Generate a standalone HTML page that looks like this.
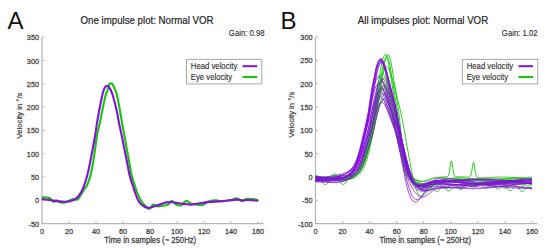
<!DOCTYPE html>
<html><head><meta charset="utf-8"><style>
html,body{margin:0;padding:0;background:#fff;width:550px;height:251px;overflow:hidden}
svg{display:block}
text{font-family:"Liberation Sans",sans-serif}
.tk{font-size:7.3px;fill:#4a4a4a;stroke:#4a4a4a;stroke-width:0.28px}
.lg{font-size:7.75px;fill:#2a2a2a;stroke:#2a2a2a;stroke-width:0.1px}
.ti{font-size:9.7px;fill:#222;stroke:#222;stroke-width:0.18px}
.xl{font-size:7.7px;fill:#444;stroke:#444;stroke-width:0.25px}
.big{font-size:24px;fill:#111}
</style></head><body>
<svg width="550" height="251" viewBox="0 0 550 251">
<path d="M42.0,37.2V223.6H263.5" fill="none" stroke="#b4b4b4" stroke-width="1.2"/>
<text transform="translate(39.00,226.60) scale(1,1.05)" text-anchor="end" class="tk">-50</text>
<path d="M42.0,200.30h2.5" stroke="#b4b4b4" stroke-width="1"/>
<text transform="translate(39.00,203.30) scale(1,1.05)" text-anchor="end" class="tk">0</text>
<path d="M42.0,177.00h2.5" stroke="#b4b4b4" stroke-width="1"/>
<text transform="translate(39.00,180.00) scale(1,1.05)" text-anchor="end" class="tk">50</text>
<path d="M42.0,153.70h2.5" stroke="#b4b4b4" stroke-width="1"/>
<text transform="translate(39.00,156.70) scale(1,1.05)" text-anchor="end" class="tk">100</text>
<path d="M42.0,130.40h2.5" stroke="#b4b4b4" stroke-width="1"/>
<text transform="translate(39.00,133.40) scale(1,1.05)" text-anchor="end" class="tk">150</text>
<path d="M42.0,107.10h2.5" stroke="#b4b4b4" stroke-width="1"/>
<text transform="translate(39.00,110.10) scale(1,1.05)" text-anchor="end" class="tk">200</text>
<path d="M42.0,83.80h2.5" stroke="#b4b4b4" stroke-width="1"/>
<text transform="translate(39.00,86.80) scale(1,1.05)" text-anchor="end" class="tk">250</text>
<path d="M42.0,60.50h2.5" stroke="#b4b4b4" stroke-width="1"/>
<text transform="translate(39.00,63.50) scale(1,1.05)" text-anchor="end" class="tk">300</text>
<path d="M42.0,37.20h2.5" stroke="#b4b4b4" stroke-width="1"/>
<text transform="translate(39.00,40.20) scale(1,1.05)" text-anchor="end" class="tk">350</text>
<text transform="translate(42.00,233.80) scale(1,1.05)" text-anchor="middle" class="tk">0</text>
<path d="M69.00,223.6v-2.5" stroke="#b4b4b4" stroke-width="1"/>
<text transform="translate(69.00,233.80) scale(1,1.05)" text-anchor="middle" class="tk">20</text>
<path d="M96.00,223.6v-2.5" stroke="#b4b4b4" stroke-width="1"/>
<text transform="translate(96.00,233.80) scale(1,1.05)" text-anchor="middle" class="tk">40</text>
<path d="M123.00,223.6v-2.5" stroke="#b4b4b4" stroke-width="1"/>
<text transform="translate(123.00,233.80) scale(1,1.05)" text-anchor="middle" class="tk">60</text>
<path d="M150.00,223.6v-2.5" stroke="#b4b4b4" stroke-width="1"/>
<text transform="translate(150.00,233.80) scale(1,1.05)" text-anchor="middle" class="tk">80</text>
<path d="M177.00,223.6v-2.5" stroke="#b4b4b4" stroke-width="1"/>
<text transform="translate(177.00,233.80) scale(1,1.05)" text-anchor="middle" class="tk">100</text>
<path d="M204.00,223.6v-2.5" stroke="#b4b4b4" stroke-width="1"/>
<text transform="translate(204.00,233.80) scale(1,1.05)" text-anchor="middle" class="tk">120</text>
<path d="M231.00,223.6v-2.5" stroke="#b4b4b4" stroke-width="1"/>
<text transform="translate(231.00,233.80) scale(1,1.05)" text-anchor="middle" class="tk">140</text>
<path d="M258.00,223.6v-2.5" stroke="#b4b4b4" stroke-width="1"/>
<text transform="translate(258.00,233.80) scale(1,1.05)" text-anchor="middle" class="tk">160</text>
<path d="M315.5,36.9V223.7H537.5" fill="none" stroke="#b4b4b4" stroke-width="1.2"/>
<text transform="translate(312.50,226.70) scale(1,1.05)" text-anchor="end" class="tk">-100</text>
<path d="M315.5,200.35h2.5" stroke="#b4b4b4" stroke-width="1"/>
<text transform="translate(312.50,203.35) scale(1,1.05)" text-anchor="end" class="tk">-50</text>
<path d="M315.5,177.00h2.5" stroke="#b4b4b4" stroke-width="1"/>
<text transform="translate(312.50,180.00) scale(1,1.05)" text-anchor="end" class="tk">0</text>
<path d="M315.5,153.65h2.5" stroke="#b4b4b4" stroke-width="1"/>
<text transform="translate(312.50,156.65) scale(1,1.05)" text-anchor="end" class="tk">50</text>
<path d="M315.5,130.30h2.5" stroke="#b4b4b4" stroke-width="1"/>
<text transform="translate(312.50,133.30) scale(1,1.05)" text-anchor="end" class="tk">100</text>
<path d="M315.5,106.95h2.5" stroke="#b4b4b4" stroke-width="1"/>
<text transform="translate(312.50,109.95) scale(1,1.05)" text-anchor="end" class="tk">150</text>
<path d="M315.5,83.60h2.5" stroke="#b4b4b4" stroke-width="1"/>
<text transform="translate(312.50,86.60) scale(1,1.05)" text-anchor="end" class="tk">200</text>
<path d="M315.5,60.25h2.5" stroke="#b4b4b4" stroke-width="1"/>
<text transform="translate(312.50,63.25) scale(1,1.05)" text-anchor="end" class="tk">250</text>
<path d="M315.5,36.90h2.5" stroke="#b4b4b4" stroke-width="1"/>
<text transform="translate(312.50,39.90) scale(1,1.05)" text-anchor="end" class="tk">300</text>
<text transform="translate(315.50,233.80) scale(1,1.05)" text-anchor="middle" class="tk">0</text>
<path d="M342.56,223.7v-2.5" stroke="#b4b4b4" stroke-width="1"/>
<text transform="translate(342.56,233.80) scale(1,1.05)" text-anchor="middle" class="tk">20</text>
<path d="M369.62,223.7v-2.5" stroke="#b4b4b4" stroke-width="1"/>
<text transform="translate(369.62,233.80) scale(1,1.05)" text-anchor="middle" class="tk">40</text>
<path d="M396.68,223.7v-2.5" stroke="#b4b4b4" stroke-width="1"/>
<text transform="translate(396.68,233.80) scale(1,1.05)" text-anchor="middle" class="tk">60</text>
<path d="M423.74,223.7v-2.5" stroke="#b4b4b4" stroke-width="1"/>
<text transform="translate(423.74,233.80) scale(1,1.05)" text-anchor="middle" class="tk">80</text>
<path d="M450.80,223.7v-2.5" stroke="#b4b4b4" stroke-width="1"/>
<text transform="translate(450.80,233.80) scale(1,1.05)" text-anchor="middle" class="tk">100</text>
<path d="M477.86,223.7v-2.5" stroke="#b4b4b4" stroke-width="1"/>
<text transform="translate(477.86,233.80) scale(1,1.05)" text-anchor="middle" class="tk">120</text>
<path d="M504.92,223.7v-2.5" stroke="#b4b4b4" stroke-width="1"/>
<text transform="translate(504.92,233.80) scale(1,1.05)" text-anchor="middle" class="tk">140</text>
<path d="M531.98,223.7v-2.5" stroke="#b4b4b4" stroke-width="1"/>
<text transform="translate(531.98,233.80) scale(1,1.05)" text-anchor="middle" class="tk">160</text>
<path d="M42.80,197.50C43.10,197.45 43.43,197.07 44.60,197.20C45.77,197.33 48.30,197.52 49.80,198.30C51.30,199.08 52.50,201.57 53.60,201.90C54.70,202.23 55.22,200.22 56.40,200.30C57.58,200.38 59.25,202.05 60.70,202.40C62.15,202.75 63.10,202.93 65.10,202.40C67.10,201.87 70.70,199.65 72.70,199.20C74.70,198.75 76.00,199.98 77.10,199.70C78.20,199.42 78.37,198.78 79.30,197.50C80.23,196.22 81.80,193.53 82.70,192.00C83.60,190.47 84.07,189.22 84.70,188.30C85.33,187.38 85.57,188.55 86.50,186.50C87.43,184.45 89.13,180.42 90.30,176.00C91.47,171.58 92.37,166.83 93.50,160.00C94.63,153.17 96.07,141.08 97.10,135.00C98.13,128.92 98.88,127.33 99.70,123.50C100.52,119.67 101.05,116.58 102.00,112.00C102.95,107.42 104.47,99.67 105.40,96.00C106.33,92.33 106.92,92.02 107.60,90.00C108.28,87.98 108.77,84.93 109.50,83.90C110.23,82.87 111.42,83.63 112.00,83.80C112.58,83.97 112.47,83.87 113.00,84.90C113.53,85.93 114.50,88.15 115.20,90.00C115.90,91.85 116.37,92.33 117.20,96.00C118.03,99.67 119.38,107.42 120.20,112.00C121.02,116.58 121.42,119.67 122.10,123.50C122.78,127.33 123.15,128.75 124.30,135.00C125.45,141.25 127.75,154.17 129.00,161.00C130.25,167.83 130.80,171.83 131.80,176.00C132.80,180.17 134.15,183.33 135.00,186.00C135.85,188.67 136.38,190.53 136.90,192.00C137.42,193.47 137.35,193.23 138.10,194.80C138.85,196.37 140.13,199.48 141.40,201.40C142.67,203.32 144.43,205.03 145.70,206.30C146.97,207.57 147.72,209.28 149.00,209.00C150.28,208.72 151.95,205.05 153.40,204.60C154.85,204.15 156.27,206.10 157.70,206.30C159.13,206.50 160.55,205.98 162.00,205.80C163.45,205.62 165.30,205.48 166.40,205.20C167.50,204.92 167.68,204.83 168.60,204.10C169.52,203.37 170.62,200.72 171.90,200.80C173.18,200.88 174.67,203.87 176.30,204.60C177.93,205.33 180.35,205.65 181.70,205.20C183.05,204.75 183.50,202.58 184.40,201.90C185.30,201.22 186.02,200.83 187.10,201.10C188.18,201.37 189.35,202.92 190.90,203.50C192.45,204.08 194.58,204.32 196.40,204.60C198.22,204.88 200.35,205.38 201.80,205.20C203.25,205.02 204.00,204.13 205.10,203.50C206.20,202.87 206.58,201.93 208.40,201.40C210.22,200.87 213.83,200.30 216.00,200.30C218.17,200.30 219.03,201.40 221.40,201.40C223.77,201.40 227.63,200.82 230.20,200.30C232.77,199.78 234.78,198.13 236.80,198.30C238.82,198.47 240.67,201.22 242.30,201.30C243.93,201.38 244.78,199.17 246.60,198.80C248.42,198.43 251.38,198.93 253.20,199.10C255.02,199.27 256.78,199.68 257.50,199.80" fill="none" stroke="#16c608" stroke-width="2.1" stroke-linejoin="round" stroke-linecap="round"/>
<path d="M42.60,199.10C43.98,199.30 48.60,199.97 50.90,200.30C53.20,200.63 54.58,200.88 56.40,201.10C58.22,201.32 59.98,201.52 61.80,201.60C63.62,201.68 65.67,201.73 67.30,201.60C68.93,201.47 70.15,201.30 71.60,200.80C73.05,200.30 74.55,199.78 76.00,198.60C77.45,197.42 79.05,195.60 80.30,193.70C81.55,191.80 82.37,190.15 83.50,187.20C84.63,184.25 85.95,180.37 87.10,176.00C88.25,171.63 89.05,167.83 90.40,161.00C91.75,154.17 94.12,141.25 95.20,135.00C96.28,128.75 96.28,127.33 96.90,123.50C97.52,119.67 98.07,116.42 98.90,112.00C99.73,107.58 101.10,100.67 101.90,97.00C102.70,93.33 103.15,91.67 103.70,90.00C104.25,88.33 104.65,87.70 105.20,87.00C105.75,86.30 106.40,85.80 107.00,85.80C107.60,85.80 108.18,86.30 108.80,87.00C109.42,87.70 110.00,88.50 110.70,90.00C111.40,91.50 111.95,92.33 113.00,96.00C114.05,99.67 115.98,107.42 117.00,112.00C118.02,116.58 118.33,119.67 119.10,123.50C119.87,127.33 120.32,128.75 121.60,135.00C122.88,141.25 125.43,154.17 126.80,161.00C128.17,167.83 128.80,171.92 129.80,176.00C130.80,180.08 131.90,182.67 132.80,185.50C133.70,188.33 134.32,190.53 135.20,193.00C136.08,195.47 137.07,198.37 138.10,200.30C139.13,202.23 140.32,203.52 141.40,204.60C142.48,205.68 143.52,206.28 144.60,206.80C145.68,207.32 146.80,207.60 147.90,207.70C149.00,207.80 149.93,207.70 151.20,207.40C152.47,207.10 153.87,206.45 155.50,205.90C157.13,205.35 159.18,204.68 161.00,204.10C162.82,203.52 164.58,202.72 166.40,202.40C168.22,202.08 170.08,202.10 171.90,202.20C173.72,202.30 175.03,202.68 177.30,203.00C179.57,203.32 183.23,203.83 185.50,204.10C187.77,204.37 189.08,204.65 190.90,204.60C192.72,204.55 194.58,204.07 196.40,203.80C198.22,203.53 199.45,203.32 201.80,203.00C204.15,202.68 207.77,202.17 210.50,201.90C213.23,201.63 215.63,201.60 218.20,201.40C220.77,201.20 222.80,201.00 225.90,200.70C229.00,200.40 234.07,199.68 236.80,199.60C239.53,199.52 240.48,200.13 242.30,200.20C244.12,200.27 245.17,199.92 247.70,200.00C250.23,200.08 255.87,200.58 257.50,200.70" fill="none" stroke="#8410dc" stroke-width="2.1" stroke-linejoin="round" stroke-linecap="round"/>
<path d="M315.50,176.94 L316.18,176.91 L316.85,176.90 L317.53,176.91 L318.21,176.92 L318.88,176.96 L319.56,177.00 L320.24,177.06 L320.91,177.13 L321.59,177.21 L322.26,177.30 L322.94,177.41 L323.62,177.52 L324.29,177.63 L324.97,177.75 L325.65,177.88 L326.32,178.01 L327.00,178.13 L327.68,178.26 L328.35,178.38 L329.03,178.50 L329.71,178.61 L330.38,178.72 L331.06,178.81 L331.74,178.90 L332.41,178.97 L333.09,179.04 L333.77,179.08 L334.44,179.12 L335.12,179.14 L335.80,179.14 L336.47,179.14 L337.15,179.11 L337.82,179.07 L338.50,179.02 L339.18,178.95 L339.85,178.87 L340.53,178.78 L341.21,178.68 L341.88,178.57 L342.56,178.45 L343.24,178.32 L343.91,178.19 L344.59,178.06 L345.27,177.93 L345.94,177.78 L346.62,177.61 L347.30,177.41 L347.97,177.19 L348.65,176.95 L349.32,176.69 L350.00,176.42 L350.68,176.15 L351.35,175.85 L352.03,175.52 L352.71,175.14 L353.38,174.73 L354.06,174.29 L354.74,173.83 L355.41,173.35 L356.09,172.83 L356.77,172.26 L357.44,171.61 L358.12,170.86 L358.80,170.05 L359.47,169.23 L360.15,168.31 L360.83,167.22 L361.50,165.88 L362.18,164.28 L362.86,162.52 L363.53,160.60 L364.21,158.51 L364.88,156.23 L365.56,153.76 L366.24,151.07 L366.91,148.16 L367.59,145.07 L368.27,141.84 L368.94,138.54 L369.62,135.20 L370.30,131.87 L370.97,128.59 L371.65,125.30 L372.33,121.93 L373.00,118.44 L373.68,114.76 L374.36,110.83 L375.03,106.43 L375.71,101.36 L376.38,95.98 L377.06,90.68 L377.74,85.82 L378.41,81.64 L379.09,77.87 L379.77,74.15 L380.44,70.21 L381.12,66.31 L381.80,62.90 L382.47,60.20 L383.15,58.05 L383.83,56.36 L384.50,55.05 L385.18,54.28 L385.86,54.33 L386.53,55.44 L387.21,57.33 L387.89,59.96 L388.56,63.29 L389.24,67.14 L389.91,71.44 L390.59,75.66 L391.27,79.76 L391.94,83.88 L392.62,88.13 L393.30,92.49 L393.97,96.85 L394.65,101.31 L395.33,106.00 L396.00,111.03 L396.68,116.71 L397.36,122.77 L398.03,128.76 L398.71,134.26 L399.39,139.45 L400.06,144.46 L400.74,149.31 L401.42,154.05 L402.09,158.62 L402.77,162.88 L403.44,166.65 L404.12,169.71 L404.80,172.05 L405.47,173.92 L406.15,175.47 L406.83,176.70 L407.50,177.60 L408.18,178.26 L408.86,178.71 L409.53,179.00 L410.21,179.21 L410.89,179.44 L411.56,179.70 L412.24,179.98 L412.92,180.28 L413.59,180.60 L414.27,180.94 L414.95,181.29 L415.62,181.64 L416.30,181.99 L416.98,182.34 L417.65,182.67 L418.33,182.98 L419.00,183.27 L419.68,183.52 L420.36,183.73 L421.03,183.90 L421.71,184.02 L422.39,184.09 L423.06,184.12 L423.74,184.11 L424.42,184.05 L425.09,183.95 L425.77,183.81 L426.45,183.65 L427.12,183.47 L427.80,183.27 L428.48,183.06 L429.15,182.85 L429.83,182.64 L430.50,182.44 L431.18,182.25 L431.86,182.08 L432.53,181.92 L433.21,181.77 L433.89,181.65 L434.56,181.55 L435.24,181.46 L435.92,181.40 L436.59,181.34 L437.27,181.30 L437.95,181.27 L438.62,181.25 L439.30,181.24 L439.98,181.23 L440.65,181.23 L441.33,181.22 L442.01,181.22 L442.68,181.22 L443.36,181.21 L444.03,181.20 L444.71,181.19 L445.39,181.17 L446.06,181.15 L446.74,181.12 L447.42,181.09 L448.09,181.05 L448.77,181.01 L449.45,180.96 L450.12,180.91 L450.80,180.85 L451.48,180.79 L452.15,180.73 L452.83,180.66 L453.51,180.59 L454.18,180.51 L454.86,180.44 L455.54,180.36 L456.21,180.28 L456.89,180.20 L457.56,180.11 L458.24,180.03 L458.92,179.95 L459.59,179.86 L460.27,179.78 L460.95,179.70 L461.62,179.62 L462.30,179.54 L462.98,179.46 L463.65,179.39 L464.33,179.32 L465.01,179.25 L465.68,179.18 L466.36,179.12 L467.04,179.07 L467.71,179.01 L468.39,178.97 L469.07,178.92 L469.74,178.89 L470.42,178.86 L471.10,178.83 L471.77,178.81 L472.45,178.79 L473.12,178.78 L473.80,178.78 L474.48,178.78 L475.15,178.79 L475.83,178.80 L476.51,178.82 L477.18,178.84 L477.86,178.87 L478.54,178.91 L479.21,178.95 L479.89,178.99 L480.57,179.04 L481.24,179.10 L481.92,179.16 L482.60,179.22 L483.27,179.28 L483.95,179.35 L484.62,179.43 L485.30,179.50 L485.98,179.58 L486.65,179.66 L487.33,179.74 L488.01,179.82 L488.68,179.90 L489.36,179.98 L490.04,180.07 L490.71,180.15 L491.39,180.23 L492.07,180.31 L492.74,180.39 L493.42,180.46 L494.10,180.54 L494.77,180.61 L495.45,180.68 L496.13,180.74 L496.80,180.80 L497.48,180.86 L498.15,180.91 L498.83,180.96 L499.51,181.01 L500.18,181.04 L500.86,181.08 L501.54,181.11 L502.21,181.13 L502.89,181.15 L503.57,181.16 L504.24,181.16 L504.92,181.16 L505.60,181.16 L506.27,181.14 L506.95,181.13 L507.63,181.10 L508.30,181.08 L508.98,181.04 L509.66,181.00 L510.33,180.96 L511.01,180.91 L511.69,180.85 L512.36,180.79 L513.04,180.73 L513.71,180.67 L514.39,180.59 L515.07,180.52 L515.74,180.45 L516.42,180.37 L517.10,180.28 L517.77,180.20 L518.45,180.12 L519.13,180.03 L519.80,179.95 L520.48,179.86 L521.16,179.77 L521.83,179.69 L522.51,179.60 L523.19,179.52 L523.86,179.44 L524.54,179.36 L525.22,179.28 L525.89,179.21 L526.57,179.13 L527.24,179.07 L527.92,179.00 L528.60,178.94 L529.27,178.89 L529.95,178.84 L530.63,178.79 L531.30,178.75 L531.98,178.71" fill="none" stroke="#16c608" stroke-width="1" opacity="0.9"/>
<path d="M315.50,179.38 L316.18,179.32 L316.85,179.26 L317.53,179.20 L318.21,179.14 L318.88,179.07 L319.56,179.00 L320.24,178.93 L320.91,178.86 L321.59,178.79 L322.26,178.73 L322.94,178.66 L323.62,178.60 L324.29,178.54 L324.97,178.48 L325.65,178.43 L326.32,178.39 L327.00,178.35 L327.68,178.31 L328.35,178.28 L329.03,178.26 L329.71,178.24 L330.38,178.23 L331.06,178.23 L331.74,178.24 L332.41,178.25 L333.09,178.27 L333.77,178.29 L334.44,178.32 L335.12,178.36 L335.80,178.40 L336.47,178.45 L337.15,178.50 L337.82,178.55 L338.50,178.61 L339.18,178.68 L339.85,178.74 L340.53,178.81 L341.21,178.87 L341.88,178.94 L342.56,179.00 L343.24,179.07 L343.91,179.13 L344.59,179.18 L345.27,179.24 L345.94,179.28 L346.62,179.33 L347.30,179.36 L347.97,179.39 L348.65,179.39 L349.32,179.35 L350.00,179.28 L350.68,179.16 L351.35,179.01 L352.03,178.82 L352.71,178.60 L353.38,178.34 L354.06,178.05 L354.74,177.69 L355.41,177.27 L356.09,176.79 L356.77,176.27 L357.44,175.72 L358.12,175.14 L358.80,174.51 L359.47,173.83 L360.15,173.07 L360.83,172.22 L361.50,171.31 L362.18,170.40 L362.86,169.41 L363.53,168.25 L364.21,166.86 L364.88,165.20 L365.56,163.40 L366.24,161.45 L366.91,159.33 L367.59,157.03 L368.27,154.54 L368.94,151.84 L369.62,148.91 L370.30,145.81 L370.97,142.58 L371.65,139.27 L372.33,135.92 L373.00,132.59 L373.68,129.29 L374.36,125.99 L375.03,122.62 L375.71,119.12 L376.38,115.44 L377.06,111.49 L377.74,107.08 L378.41,102.00 L379.09,96.60 L379.77,91.27 L380.44,86.40 L381.12,82.21 L381.80,78.43 L382.47,74.69 L383.15,70.74 L383.83,66.83 L384.50,63.40 L385.18,60.68 L385.86,58.53 L386.53,56.84 L387.21,55.52 L387.89,54.75 L388.56,54.80 L389.24,55.92 L389.91,57.80 L390.59,60.45 L391.27,63.79 L391.94,67.65 L392.62,71.97 L393.30,76.21 L393.97,80.33 L394.65,84.47 L395.33,88.74 L396.00,93.12 L396.68,97.50 L397.36,101.98 L398.03,106.69 L398.71,111.76 L399.39,117.47 L400.06,123.57 L400.74,129.61 L401.42,135.15 L402.09,140.39 L402.77,145.45 L403.44,150.37 L404.12,155.17 L404.80,159.82 L405.47,164.16 L406.15,168.02 L406.83,171.17 L407.50,173.62 L408.18,175.60 L408.86,177.27 L409.53,178.61 L410.21,179.64 L410.89,180.43 L411.56,181.01 L412.24,181.43 L412.92,181.77 L413.59,182.13 L414.27,182.50 L414.95,182.89 L415.62,183.28 L416.30,183.69 L416.98,184.10 L417.65,184.50 L418.33,184.90 L419.00,185.27 L419.68,185.63 L420.36,185.96 L421.03,186.26 L421.71,186.53 L422.39,186.75 L423.06,186.94 L423.74,187.08 L424.42,187.18 L425.09,187.23 L425.77,187.24 L426.45,187.21 L427.12,187.15 L427.80,187.04 L428.48,186.91 L429.15,186.74 L429.83,186.55 L430.50,186.34 L431.18,186.11 L431.86,185.87 L432.53,185.62 L433.21,185.37 L433.89,185.11 L434.56,184.85 L435.24,184.59 L435.92,184.34 L436.59,184.09 L437.27,183.85 L437.95,183.62 L438.62,183.40 L439.30,183.19 L439.98,182.99 L440.65,182.80 L441.33,182.62 L442.01,182.45 L442.68,182.29 L443.36,182.14 L444.03,181.99 L444.71,181.86 L445.39,181.73 L446.06,181.61 L446.74,181.50 L447.42,181.39 L448.09,181.29 L448.77,181.20 L449.45,181.12 L450.12,181.04 L450.80,180.97 L451.48,180.90 L452.15,180.85 L452.83,180.80 L453.51,180.75 L454.18,180.72 L454.86,180.69 L455.54,180.67 L456.21,180.66 L456.89,180.66 L457.56,180.66 L458.24,180.67 L458.92,180.69 L459.59,180.71 L460.27,180.75 L460.95,180.79 L461.62,180.83 L462.30,180.88 L462.98,180.94 L463.65,181.01 L464.33,181.08 L465.01,181.15 L465.68,181.23 L466.36,181.31 L467.04,181.40 L467.71,181.49 L468.39,181.58 L469.07,181.67 L469.74,181.77 L470.42,181.87 L471.10,181.96 L471.77,182.06 L472.45,182.15 L473.12,182.24 L473.80,182.33 L474.48,182.42 L475.15,182.50 L475.83,182.58 L476.51,182.66 L477.18,182.73 L477.86,182.79 L478.54,182.85 L479.21,182.91 L479.89,182.96 L480.57,183.00 L481.24,183.03 L481.92,183.06 L482.60,183.08 L483.27,183.09 L483.95,183.09 L484.62,183.09 L485.30,183.08 L485.98,183.06 L486.65,183.04 L487.33,183.01 L488.01,182.97 L488.68,182.92 L489.36,182.87 L490.04,182.81 L490.71,182.75 L491.39,182.68 L492.07,182.60 L492.74,182.52 L493.42,182.44 L494.10,182.35 L494.77,182.26 L495.45,182.17 L496.13,182.07 L496.80,181.98 L497.48,181.88 L498.15,181.78 L498.83,181.68 L499.51,181.59 L500.18,181.49 L500.86,181.40 L501.54,181.31 L502.21,181.22 L502.89,181.14 L503.57,181.06 L504.24,180.98 L504.92,180.91 L505.60,180.84 L506.27,180.79 L506.95,180.73 L507.63,180.69 L508.30,180.65 L508.98,180.61 L509.66,180.59 L510.33,180.57 L511.01,180.56 L511.69,180.56 L512.36,180.56 L513.04,180.57 L513.71,180.59 L514.39,180.62 L515.07,180.65 L515.74,180.69 L516.42,180.74 L517.10,180.79 L517.77,180.85 L518.45,180.91 L519.13,180.98 L519.80,181.06 L520.48,181.14 L521.16,181.22 L521.83,181.30 L522.51,181.39 L523.19,181.48 L523.86,181.58 L524.54,181.67 L525.22,181.76 L525.89,181.86 L526.57,181.95 L527.24,182.04 L527.92,182.13 L528.60,182.22 L529.27,182.30 L529.95,182.39 L530.63,182.46 L531.30,182.54 L531.98,182.60" fill="none" stroke="#16c608" stroke-width="1" opacity="0.9"/>
<path d="M315.50,176.14 L316.18,176.20 L316.85,176.26 L317.53,176.34 L318.21,176.41 L318.88,176.50 L319.56,176.59 L320.24,176.68 L320.91,176.77 L321.59,176.87 L322.26,176.97 L322.94,177.07 L323.62,177.17 L324.29,177.27 L324.97,177.37 L325.65,177.47 L326.32,177.56 L327.00,177.65 L327.68,177.73 L328.35,177.81 L329.03,177.88 L329.71,177.95 L330.38,178.01 L331.06,178.06 L331.74,178.10 L332.41,178.13 L333.09,178.16 L333.77,178.17 L334.44,178.18 L335.12,178.17 L335.80,178.16 L336.47,178.14 L337.15,178.11 L337.82,178.07 L338.50,178.02 L339.18,177.96 L339.85,177.90 L340.53,177.82 L341.21,177.74 L341.88,177.66 L342.56,177.56 L343.24,177.47 L343.91,177.37 L344.59,177.26 L345.27,177.16 L345.94,177.05 L346.62,176.94 L347.30,176.82 L347.97,176.68 L348.65,176.50 L349.32,176.31 L350.00,176.09 L350.68,175.85 L351.35,175.60 L352.03,175.33 L352.71,175.05 L353.38,174.72 L354.06,174.34 L354.74,173.93 L355.41,173.49 L356.09,173.02 L356.77,172.54 L357.44,172.02 L358.12,171.45 L358.80,170.80 L359.47,170.06 L360.15,169.26 L360.83,168.45 L361.50,167.56 L362.18,166.49 L362.86,165.19 L363.53,163.63 L364.21,161.92 L364.88,160.05 L365.56,158.02 L366.24,155.81 L366.91,153.41 L367.59,150.80 L368.27,147.97 L368.94,144.96 L369.62,141.83 L370.30,138.62 L370.97,135.37 L371.65,132.14 L372.33,128.94 L373.00,125.74 L373.68,122.47 L374.36,119.07 L375.03,115.49 L375.71,111.67 L376.38,107.39 L377.06,102.45 L377.74,97.21 L378.41,92.05 L379.09,87.32 L379.77,83.25 L380.44,79.58 L381.12,75.96 L381.80,72.12 L382.47,68.33 L383.15,65.01 L383.83,62.37 L384.50,60.28 L385.18,58.64 L385.86,57.36 L386.53,56.61 L387.21,56.66 L387.89,57.75 L388.56,59.58 L389.24,62.14 L389.91,65.39 L390.59,69.13 L391.27,73.32 L391.94,77.42 L392.62,81.42 L393.30,85.43 L393.97,89.57 L394.65,93.82 L395.33,98.06 L396.00,102.40 L396.68,106.96 L397.36,111.86 L398.03,117.39 L398.71,123.30 L399.39,129.13 L400.06,134.49 L400.74,139.54 L401.42,144.41 L402.09,149.14 L402.77,153.75 L403.44,158.21 L404.12,162.36 L404.80,166.03 L405.47,169.01 L406.15,171.29 L406.83,173.11 L407.50,174.63 L408.18,175.83 L408.86,176.71 L409.53,177.34 L410.21,177.78 L410.89,178.05 L411.56,178.24 L412.24,178.45 L412.92,178.67 L413.59,178.90 L414.27,179.15 L414.95,179.41 L415.62,179.67 L416.30,179.92 L416.98,180.18 L417.65,180.42 L418.33,180.64 L419.00,180.84 L419.68,181.01 L420.36,181.14 L421.03,181.24 L421.71,181.30 L422.39,181.32 L423.06,181.30 L423.74,181.23 L424.42,181.13 L425.09,180.99 L425.77,180.82 L426.45,180.62 L427.12,180.40 L427.80,180.17 L428.48,179.93 L429.15,179.68 L429.83,179.43 L430.50,179.20 L431.18,178.97 L431.86,178.75 L432.53,178.56 L433.21,178.38 L433.89,178.23 L434.56,178.09 L435.24,177.98 L435.92,177.89 L436.59,177.81 L437.27,177.76 L437.95,177.72 L438.62,177.70 L439.30,177.70 L439.98,177.70 L440.65,177.72 L441.33,177.74 L442.01,177.78 L442.68,177.81 L443.36,177.86 L444.03,177.91 L444.71,177.96 L445.39,178.02 L446.06,178.08 L446.74,178.14 L447.42,178.20 L448.09,178.26 L448.77,178.32 L449.45,178.38 L450.12,178.44 L450.80,178.50 L451.48,178.56 L452.15,178.62 L452.83,178.67 L453.51,178.73 L454.18,178.78 L454.86,178.83 L455.54,178.87 L456.21,178.92 L456.89,178.96 L457.56,179.00 L458.24,179.04 L458.92,179.07 L459.59,179.10 L460.27,179.12 L460.95,179.15 L461.62,179.16 L462.30,179.18 L462.98,179.19 L463.65,179.20 L464.33,179.20 L465.01,179.20 L465.68,179.20 L466.36,179.19 L467.04,179.18 L467.71,179.17 L468.39,179.15 L469.07,179.13 L469.74,179.10 L470.42,179.07 L471.10,179.04 L471.77,179.01 L472.45,178.97 L473.12,178.93 L473.80,178.88 L474.48,178.84 L475.15,178.79 L475.83,178.74 L476.51,178.68 L477.18,178.63 L477.86,178.57 L478.54,178.51 L479.21,178.45 L479.89,178.39 L480.57,178.33 L481.24,178.27 L481.92,178.20 L482.60,178.14 L483.27,178.08 L483.95,178.01 L484.62,177.95 L485.30,177.89 L485.98,177.82 L486.65,177.76 L487.33,177.70 L488.01,177.65 L488.68,177.59 L489.36,177.53 L490.04,177.48 L490.71,177.43 L491.39,177.38 L492.07,177.33 L492.74,177.29 L493.42,177.25 L494.10,177.21 L494.77,177.18 L495.45,177.15 L496.13,177.12 L496.80,177.09 L497.48,177.07 L498.15,177.05 L498.83,177.04 L499.51,177.03 L500.18,177.02 L500.86,177.02 L501.54,177.02 L502.21,177.02 L502.89,177.03 L503.57,177.04 L504.24,177.06 L504.92,177.07 L505.60,177.10 L506.27,177.12 L506.95,177.15 L507.63,177.18 L508.30,177.21 L508.98,177.25 L509.66,177.29 L510.33,177.34 L511.01,177.38 L511.69,177.43 L512.36,177.48 L513.04,177.53 L513.71,177.58 L514.39,177.64 L515.07,177.69 L515.74,177.75 L516.42,177.81 L517.10,177.87 L517.77,177.93 L518.45,177.99 L519.13,178.05 L519.80,178.11 L520.48,178.17 L521.16,178.23 L521.83,178.29 L522.51,178.35 L523.19,178.40 L523.86,178.46 L524.54,178.51 L525.22,178.56 L525.89,178.62 L526.57,178.66 L527.24,178.71 L527.92,178.75 L528.60,178.79 L529.27,178.83 L529.95,178.87 L530.63,178.90 L531.30,178.93 L531.98,178.95" fill="none" stroke="#16c608" stroke-width="1" opacity="0.9"/>
<path d="M315.50,178.75 L316.18,178.76 L316.85,178.75 L317.53,178.73 L318.21,178.69 L318.88,178.64 L319.56,178.58 L320.24,178.51 L320.91,178.43 L321.59,178.33 L322.26,178.23 L322.94,178.12 L323.62,178.00 L324.29,177.87 L324.97,177.75 L325.65,177.62 L326.32,177.49 L327.00,177.36 L327.68,177.23 L328.35,177.11 L329.03,176.99 L329.71,176.88 L330.38,176.78 L331.06,176.68 L331.74,176.59 L332.41,176.52 L333.09,176.46 L333.77,176.41 L334.44,176.37 L335.12,176.35 L335.80,176.34 L336.47,176.34 L337.15,176.36 L337.82,176.39 L338.50,176.43 L339.18,176.49 L339.85,176.56 L340.53,176.64 L341.21,176.72 L341.88,176.82 L342.56,176.92 L343.24,177.03 L343.91,177.14 L344.59,177.25 L345.27,177.37 L345.94,177.48 L346.62,177.58 L347.30,177.65 L347.97,177.69 L348.65,177.69 L349.32,177.65 L350.00,177.57 L350.68,177.46 L351.35,177.31 L352.03,177.12 L352.71,176.87 L353.38,176.55 L354.06,176.17 L354.74,175.74 L355.41,175.26 L356.09,174.74 L356.77,174.19 L357.44,173.59 L358.12,172.92 L358.80,172.16 L359.47,171.32 L360.15,170.49 L360.83,169.61 L361.50,168.61 L362.18,167.43 L362.86,166.01 L363.53,164.43 L364.21,162.73 L364.88,160.88 L365.56,158.89 L366.24,156.73 L366.91,154.39 L367.59,151.85 L368.27,149.14 L368.94,146.30 L369.62,143.37 L370.30,140.39 L370.97,137.41 L371.65,134.46 L372.33,131.53 L373.00,128.56 L373.68,125.49 L374.36,122.28 L375.03,118.87 L375.71,115.16 L376.38,110.84 L377.06,106.10 L377.74,101.29 L378.41,96.74 L379.09,92.78 L379.77,89.30 L380.44,85.99 L381.12,82.55 L381.80,79.00 L382.47,75.73 L383.15,73.07 L383.83,70.96 L384.50,69.30 L385.18,67.99 L385.86,67.08 L386.53,66.79 L387.21,67.10 L387.89,67.82 L388.56,68.84 L389.24,70.11 L389.91,71.71 L390.59,73.60 L391.27,75.68 L391.94,77.98 L392.62,80.49 L393.30,83.08 L393.97,85.58 L394.65,88.05 L395.33,90.50 L396.00,92.99 L396.68,95.53 L397.36,98.15 L398.03,100.82 L398.71,103.50 L399.39,106.23 L400.06,109.02 L400.74,111.93 L401.42,114.98 L402.09,118.20 L402.77,121.70 L403.44,125.51 L404.12,129.50 L404.80,133.55 L405.47,137.56 L406.15,141.39 L406.83,145.14 L407.50,148.85 L408.18,152.55 L408.86,156.24 L409.53,159.91 L410.21,163.59 L410.89,167.24 L411.56,170.84 L412.24,174.32 L412.92,177.63 L413.59,180.71 L414.27,183.47 L414.95,185.90 L415.62,188.00 L416.30,189.84 L416.98,191.47 L417.65,192.88 L418.33,194.05 L419.00,194.98 L419.68,195.65 L420.36,196.10 L421.03,196.34 L421.71,196.37 L422.39,196.22 L423.06,195.90 L423.74,195.46 L424.42,194.93 L425.09,194.32 L425.77,193.65 L426.45,192.93 L427.12,192.18 L427.80,191.39 L428.48,190.59 L429.15,189.79 L429.83,188.99 L430.50,188.21 L431.18,187.45 L431.86,186.72 L432.53,186.03 L433.21,185.37 L433.89,184.74 L434.56,184.16 L435.24,183.62 L435.92,183.12 L436.59,182.66 L437.27,182.24 L437.95,181.86 L438.62,181.50 L439.30,181.18 L439.98,180.89 L440.65,180.63 L441.33,180.38 L442.01,180.16 L442.68,179.96 L443.36,179.78 L444.03,179.62 L444.71,179.47 L445.39,179.34 L446.06,179.21 L446.74,179.10 L447.42,179.01 L448.09,178.92 L448.77,178.84 L449.45,178.78 L450.12,178.73 L450.80,178.68 L451.48,178.65 L452.15,178.62 L452.83,178.61 L453.51,178.61 L454.18,178.61 L454.86,178.63 L455.54,178.65 L456.21,178.68 L456.89,178.73 L457.56,178.78 L458.24,178.84 L458.92,178.91 L459.59,178.99 L460.27,179.07 L460.95,179.16 L461.62,179.26 L462.30,179.37 L462.98,179.48 L463.65,179.60 L464.33,179.72 L465.01,179.85 L465.68,179.98 L466.36,180.12 L467.04,180.26 L467.71,180.40 L468.39,180.54 L469.07,180.69 L469.74,180.83 L470.42,180.98 L471.10,181.12 L471.77,181.27 L472.45,181.41 L473.12,181.55 L473.80,181.69 L474.48,181.83 L475.15,181.96 L475.83,182.09 L476.51,182.21 L477.18,182.33 L477.86,182.44 L478.54,182.54 L479.21,182.64 L479.89,182.73 L480.57,182.82 L481.24,182.90 L481.92,182.96 L482.60,183.02 L483.27,183.08 L483.95,183.12 L484.62,183.15 L485.30,183.18 L485.98,183.19 L486.65,183.20 L487.33,183.20 L488.01,183.19 L488.68,183.17 L489.36,183.14 L490.04,183.10 L490.71,183.05 L491.39,182.99 L492.07,182.93 L492.74,182.85 L493.42,182.77 L494.10,182.68 L494.77,182.59 L495.45,182.49 L496.13,182.38 L496.80,182.26 L497.48,182.14 L498.15,182.02 L498.83,181.89 L499.51,181.76 L500.18,181.62 L500.86,181.48 L501.54,181.34 L502.21,181.19 L502.89,181.05 L503.57,180.90 L504.24,180.76 L504.92,180.62 L505.60,180.47 L506.27,180.33 L506.95,180.19 L507.63,180.06 L508.30,179.92 L508.98,179.80 L509.66,179.67 L510.33,179.55 L511.01,179.44 L511.69,179.33 L512.36,179.23 L513.04,179.14 L513.71,179.05 L514.39,178.97 L515.07,178.90 L515.74,178.84 L516.42,178.78 L517.10,178.74 L517.77,178.70 L518.45,178.67 L519.13,178.65 L519.80,178.64 L520.48,178.64 L521.16,178.65 L521.83,178.67 L522.51,178.70 L523.19,178.73 L523.86,178.78 L524.54,178.83 L525.22,178.89 L525.89,178.96 L526.57,179.04 L527.24,179.13 L527.92,179.22 L528.60,179.32 L529.27,179.42 L529.95,179.54 L530.63,179.65 L531.30,179.78 L531.98,179.90" fill="none" stroke="#16c608" stroke-width="1" opacity="0.9"/>
<path d="M315.50,181.09 L316.18,181.05 L316.85,181.02 L317.53,180.98 L318.21,180.94 L318.88,180.90 L319.56,180.86 L320.24,180.82 L320.91,180.78 L321.59,180.74 L322.26,180.70 L322.94,180.66 L323.62,180.62 L324.29,180.58 L324.97,180.54 L325.65,180.51 L326.32,180.47 L327.00,180.44 L327.68,180.41 L328.35,180.38 L329.03,180.35 L329.71,180.33 L330.38,180.30 L331.06,180.28 L331.74,180.26 L332.41,180.25 L333.09,180.24 L333.77,180.23 L334.44,180.22 L335.12,180.21 L335.80,180.21 L336.47,180.21 L337.15,180.22 L337.82,180.22 L338.50,180.23 L339.18,180.24 L339.85,180.25 L340.53,180.27 L341.21,180.28 L341.88,180.30 L342.56,180.31 L343.24,180.30 L343.91,180.27 L344.59,180.20 L345.27,180.12 L345.94,180.01 L346.62,179.87 L347.30,179.72 L347.97,179.54 L348.65,179.31 L349.32,179.03 L350.00,178.71 L350.68,178.34 L351.35,177.94 L352.03,177.51 L352.71,177.05 L353.38,176.53 L354.06,175.95 L354.74,175.29 L355.41,174.54 L356.09,173.79 L356.77,172.99 L357.44,172.07 L358.12,170.96 L358.80,169.61 L359.47,168.10 L360.15,166.47 L360.83,164.69 L361.50,162.76 L362.18,160.67 L362.86,158.40 L363.53,155.94 L364.21,153.31 L364.88,150.54 L365.56,147.70 L366.24,144.80 L366.91,141.90 L367.59,139.04 L368.27,136.19 L368.94,133.30 L369.62,130.32 L370.30,127.20 L370.97,123.89 L371.65,120.29 L372.33,116.09 L373.00,111.48 L373.68,106.81 L374.36,102.40 L375.03,98.55 L375.71,95.18 L376.38,91.96 L377.06,88.62 L377.74,85.18 L378.41,82.01 L379.09,79.42 L379.77,77.38 L380.44,75.76 L381.12,74.49 L381.80,73.61 L382.47,73.33 L383.15,73.69 L383.83,74.51 L384.50,75.69 L385.18,77.18 L385.86,79.07 L386.53,81.24 L387.21,83.63 L387.89,86.29 L388.56,89.06 L389.24,91.73 L389.91,94.35 L390.59,96.96 L391.27,99.60 L391.94,102.30 L392.62,105.08 L393.30,107.84 L393.97,110.63 L394.65,113.46 L395.33,116.39 L396.00,119.45 L396.68,122.70 L397.36,126.27 L398.03,130.08 L398.71,133.97 L399.39,137.79 L400.06,141.37 L400.74,144.76 L401.42,148.05 L402.09,151.27 L402.77,154.42 L403.44,157.51 L404.12,160.57 L404.80,163.56 L405.47,166.43 L406.15,169.12 L406.83,171.58 L407.50,173.71 L408.18,175.52 L408.86,177.04 L409.53,178.39 L410.21,179.62 L410.89,180.71 L411.56,181.67 L412.24,182.48 L412.92,183.19 L413.59,183.80 L414.27,184.32 L414.95,184.76 L415.62,185.13 L416.30,185.49 L416.98,185.83 L417.65,186.15 L418.33,186.44 L419.00,186.70 L419.68,186.92 L420.36,187.09 L421.03,187.22 L421.71,187.28 L422.39,187.29 L423.06,187.25 L423.74,187.14 L424.42,186.99 L425.09,186.78 L425.77,186.53 L426.45,186.25 L427.12,185.93 L427.80,185.58 L428.48,185.22 L429.15,184.86 L429.83,184.48 L430.50,184.11 L431.18,183.75 L431.86,183.41 L432.53,183.08 L433.21,182.77 L433.89,182.48 L434.56,182.22 L435.24,181.98 L435.92,181.77 L436.59,181.57 L437.27,181.40 L437.95,181.25 L438.62,181.12 L439.30,181.01 L439.98,180.91 L440.65,180.83 L441.33,180.76 L442.01,180.71 L442.68,180.66 L443.36,180.63 L444.03,180.60 L444.71,180.58 L445.39,180.57 L446.06,180.57 L446.74,180.58 L447.42,180.59 L448.09,180.61 L448.77,180.63 L449.45,180.66 L450.12,180.70 L450.80,180.74 L451.48,180.79 L452.15,180.84 L452.83,180.90 L453.51,180.96 L454.18,181.02 L454.86,181.10 L455.54,181.17 L456.21,181.25 L456.89,181.33 L457.56,181.42 L458.24,181.51 L458.92,181.60 L459.59,181.70 L460.27,181.80 L460.95,181.90 L461.62,182.00 L462.30,182.11 L462.98,182.22 L463.65,182.32 L464.33,182.43 L465.01,182.54 L465.68,182.66 L466.36,182.77 L467.04,182.88 L467.71,182.99 L468.39,183.10 L469.07,183.21 L469.74,183.32 L470.42,183.42 L471.10,183.53 L471.77,183.63 L472.45,183.73 L473.12,183.83 L473.80,183.93 L474.48,184.02 L475.15,184.11 L475.83,184.20 L476.51,184.28 L477.18,184.36 L477.86,184.44 L478.54,184.51 L479.21,184.58 L479.89,184.64 L480.57,184.70 L481.24,184.75 L481.92,184.80 L482.60,184.84 L483.27,184.88 L483.95,184.91 L484.62,184.94 L485.30,184.96 L485.98,184.98 L486.65,184.99 L487.33,184.99 L488.01,184.99 L488.68,184.98 L489.36,184.97 L490.04,184.96 L490.71,184.93 L491.39,184.91 L492.07,184.87 L492.74,184.83 L493.42,184.79 L494.10,184.74 L494.77,184.69 L495.45,184.63 L496.13,184.57 L496.80,184.50 L497.48,184.43 L498.15,184.35 L498.83,184.27 L499.51,184.19 L500.18,184.10 L500.86,184.01 L501.54,183.91 L502.21,183.82 L502.89,183.72 L503.57,183.62 L504.24,183.51 L504.92,183.41 L505.60,183.30 L506.27,183.19 L506.95,183.08 L507.63,182.97 L508.30,182.86 L508.98,182.75 L509.66,182.64 L510.33,182.53 L511.01,182.41 L511.69,182.31 L512.36,182.20 L513.04,182.09 L513.71,181.99 L514.39,181.88 L515.07,181.78 L515.74,181.68 L516.42,181.59 L517.10,181.49 L517.77,181.40 L518.45,181.32 L519.13,181.23 L519.80,181.16 L520.48,181.08 L521.16,181.01 L521.83,180.94 L522.51,180.88 L523.19,180.82 L523.86,180.77 L524.54,180.73 L525.22,180.68 L525.89,180.65 L526.57,180.61 L527.24,180.59 L527.92,180.57 L528.60,180.55 L529.27,180.54 L529.95,180.54 L530.63,180.54 L531.30,180.54 L531.98,180.55" fill="none" stroke="#16c608" stroke-width="1" opacity="0.9"/>
<path d="M315.50,175.99 L316.18,175.55 L316.85,175.40 L317.53,175.54 L318.21,175.97 L318.88,176.65 L319.56,177.53 L320.24,178.58 L320.91,179.71 L321.59,180.86 L322.26,181.96 L322.94,182.95 L323.62,183.75 L324.29,184.32 L324.97,184.62 L325.65,184.62 L326.32,184.34 L327.00,183.77 L327.68,182.95 L328.35,181.92 L329.03,180.74 L329.71,179.47 L330.38,178.18 L331.06,176.95 L331.74,175.85 L332.41,174.94 L333.09,174.26 L333.77,173.87 L334.44,173.77 L335.12,173.98 L335.80,174.48 L336.47,175.25 L337.15,176.24 L337.82,177.40 L338.50,178.65 L339.18,179.93 L339.85,181.16 L340.53,182.28 L341.21,183.23 L341.88,183.94 L342.56,184.39 L343.24,184.55 L343.91,184.40 L344.59,183.97 L345.27,183.26 L345.94,182.31 L346.62,181.17 L347.30,179.91 L347.97,178.60 L348.65,177.32 L349.32,176.13 L350.00,175.09 L350.68,174.23 L351.35,173.59 L352.03,173.18 L352.71,173.03 L353.38,173.13 L354.06,173.45 L354.74,173.95 L355.41,174.56 L356.09,175.19 L356.77,174.90 L357.44,174.16 L358.12,173.42 L358.80,172.62 L359.47,171.72 L360.15,170.65 L360.83,169.35 L361.50,167.90 L362.18,166.33 L362.86,164.63 L363.53,162.79 L364.21,160.80 L364.88,158.64 L365.56,156.30 L366.24,153.80 L366.91,151.18 L367.59,148.48 L368.27,145.73 L368.94,142.98 L369.62,140.27 L370.30,137.57 L370.97,134.83 L371.65,132.01 L372.33,129.05 L373.00,125.91 L373.68,122.50 L374.36,118.52 L375.03,114.16 L375.71,109.73 L376.38,105.55 L377.06,101.90 L377.74,98.70 L378.41,95.66 L379.09,92.49 L379.77,89.23 L380.44,86.22 L381.12,83.78 L381.80,81.83 L382.47,80.31 L383.15,79.10 L383.83,78.27 L384.50,78.00 L385.18,78.34 L385.86,79.12 L386.53,80.24 L387.21,81.65 L387.89,83.44 L388.56,85.49 L389.24,87.76 L389.91,90.29 L390.59,92.91 L391.27,95.44 L391.94,97.92 L392.62,100.40 L393.30,102.90 L393.97,105.47 L394.65,108.10 L395.33,110.72 L396.00,113.36 L396.68,116.06 L397.36,118.84 L398.03,121.75 L398.71,124.83 L399.39,128.23 L400.06,131.86 L400.74,135.57 L401.42,139.21 L402.09,142.64 L402.77,145.88 L403.44,149.04 L404.12,152.13 L404.80,155.17 L405.47,158.17 L406.15,161.13 L406.83,164.04 L407.50,166.85 L408.18,169.49 L408.86,171.92 L409.53,174.05 L410.21,175.87 L410.89,177.41 L411.56,178.80 L412.24,180.07 L412.92,181.20 L413.59,182.19 L414.27,183.04 L414.95,183.78 L415.62,184.40 L416.30,184.92 L416.98,185.35 L417.65,185.70 L418.33,186.02 L419.00,186.31 L419.68,186.57 L420.36,186.80 L421.03,186.99 L421.71,187.15 L422.39,187.27 L423.06,187.35 L423.74,187.38 L424.42,187.39 L425.09,187.35 L425.77,187.28 L426.45,187.17 L427.12,187.04 L427.80,186.89 L428.48,186.71 L429.15,186.52 L429.83,186.31 L430.50,186.09 L431.18,185.87 L431.86,185.65 L432.53,185.44 L433.21,185.23 L433.89,185.03 L434.56,184.84 L435.24,184.66 L435.92,184.50 L436.59,184.35 L437.27,184.23 L437.95,184.11 L438.62,184.02 L439.30,183.94 L439.98,183.88 L440.65,183.83 L441.33,183.79 L442.01,183.77 L442.68,183.76 L443.36,183.76 L444.03,183.77 L444.71,183.79 L445.39,183.81 L446.06,183.84 L446.74,183.88 L447.42,183.92 L448.09,183.96 L448.77,184.00 L449.45,184.05 L450.12,184.10 L450.80,184.14 L451.48,184.19 L452.15,184.24 L452.83,184.29 L453.51,184.34 L454.18,184.38 L454.86,184.43 L455.54,184.47 L456.21,184.51 L456.89,184.56 L457.56,184.59 L458.24,184.63 L458.92,184.67 L459.59,184.70 L460.27,184.73 L460.95,184.76 L461.62,184.78 L462.30,184.81 L462.98,184.83 L463.65,184.85 L464.33,184.86 L465.01,184.88 L465.68,184.89 L466.36,184.90 L467.04,184.90 L467.71,184.91 L468.39,184.91 L469.07,184.91 L469.74,184.90 L470.42,184.90 L471.10,184.89 L471.77,184.87 L472.45,184.86 L473.12,184.84 L473.80,184.82 L474.48,184.80 L475.15,184.78 L475.83,184.75 L476.51,184.72 L477.18,184.69 L477.86,184.66 L478.54,184.62 L479.21,184.58 L479.89,184.55 L480.57,184.50 L481.24,184.46 L481.92,184.42 L482.60,184.37 L483.27,184.32 L483.95,184.28 L484.62,184.23 L485.30,184.17 L485.98,184.12 L486.65,184.07 L487.33,184.02 L488.01,183.96 L488.68,183.91 L489.36,183.85 L490.04,183.80 L490.71,183.74 L491.39,183.68 L492.07,183.63 L492.74,183.57 L493.42,183.52 L494.10,183.46 L494.77,183.41 L495.45,183.35 L496.13,183.30 L496.80,183.25 L497.48,183.20 L498.15,183.15 L498.83,183.10 L499.51,183.05 L500.18,183.00 L500.86,182.96 L501.54,182.91 L502.21,182.87 L502.89,182.83 L503.57,182.79 L504.24,182.76 L504.92,182.72 L505.60,182.69 L506.27,182.66 L506.95,182.63 L507.63,182.61 L508.30,182.58 L508.98,182.56 L509.66,182.54 L510.33,182.53 L511.01,182.52 L511.69,182.50 L512.36,182.50 L513.04,182.49 L513.71,182.49 L514.39,182.49 L515.07,182.49 L515.74,182.49 L516.42,182.50 L517.10,182.51 L517.77,182.52 L518.45,182.53 L519.13,182.55 L519.80,182.57 L520.48,182.59 L521.16,182.62 L521.83,182.64 L522.51,182.67 L523.19,182.70 L523.86,182.73 L524.54,182.77 L525.22,182.80 L525.89,182.84 L526.57,182.88 L527.24,182.93 L527.92,182.97 L528.60,183.01 L529.27,183.06 L529.95,183.11 L530.63,183.16 L531.30,183.21 L531.98,183.26" fill="none" stroke="#16c608" stroke-width="1" opacity="0.9"/>
<path d="M315.50,179.48 L316.18,179.52 L316.85,179.55 L317.53,179.57 L318.21,179.58 L318.88,179.57 L319.56,179.56 L320.24,179.54 L320.91,179.50 L321.59,179.46 L322.26,179.40 L322.94,179.33 L323.62,179.26 L324.29,179.18 L324.97,179.09 L325.65,179.00 L326.32,178.90 L327.00,178.79 L327.68,178.69 L328.35,178.58 L329.03,178.47 L329.71,178.36 L330.38,178.25 L331.06,178.14 L331.74,178.04 L332.41,177.94 L333.09,177.85 L333.77,177.76 L334.44,177.68 L335.12,177.61 L335.80,177.54 L336.47,177.49 L337.15,177.45 L337.82,177.41 L338.50,177.39 L339.18,177.38 L339.85,177.38 L340.53,177.39 L341.21,177.41 L341.88,177.43 L342.56,177.47 L343.24,177.52 L343.91,177.55 L344.59,177.56 L345.27,177.55 L345.94,177.53 L346.62,177.49 L347.30,177.42 L347.97,177.34 L348.65,177.24 L349.32,177.09 L350.00,176.89 L350.68,176.64 L351.35,176.35 L352.03,176.02 L352.71,175.66 L353.38,175.26 L354.06,174.81 L354.74,174.29 L355.41,173.69 L356.09,173.01 L356.77,172.33 L357.44,171.59 L358.12,170.75 L358.80,169.73 L359.47,168.50 L360.15,167.13 L360.83,165.64 L361.50,164.03 L362.18,162.28 L362.86,160.38 L363.53,158.34 L364.21,156.11 L364.88,153.73 L365.56,151.24 L366.24,148.67 L366.91,146.06 L367.59,143.45 L368.27,140.87 L368.94,138.31 L369.62,135.71 L370.30,133.03 L370.97,130.22 L371.65,127.23 L372.33,123.99 L373.00,120.21 L373.68,116.07 L374.36,111.87 L375.03,107.90 L375.71,104.43 L376.38,101.39 L377.06,98.50 L377.74,95.50 L378.41,92.40 L379.09,89.54 L379.77,87.22 L380.44,85.38 L381.12,83.93 L381.80,82.78 L382.47,81.99 L383.15,81.73 L383.83,82.06 L384.50,82.80 L385.18,83.86 L385.86,85.20 L386.53,86.90 L387.21,88.85 L387.89,91.00 L388.56,93.40 L389.24,95.89 L389.91,98.29 L390.59,100.65 L391.27,102.99 L391.94,105.37 L392.62,107.80 L393.30,110.30 L393.97,112.79 L394.65,115.29 L395.33,117.84 L396.00,120.47 L396.68,123.22 L397.36,126.13 L398.03,129.34 L398.71,132.76 L399.39,136.25 L400.06,139.68 L400.74,142.89 L401.42,145.92 L402.09,148.86 L402.77,151.73 L403.44,154.53 L404.12,157.28 L404.80,159.99 L405.47,162.63 L406.15,165.16 L406.83,167.52 L407.50,169.66 L408.18,171.50 L408.86,173.04 L409.53,174.31 L410.21,175.43 L410.89,176.42 L411.56,177.29 L412.24,178.03 L412.92,178.64 L413.59,179.15 L414.27,179.57 L414.95,179.92 L415.62,180.19 L416.30,180.41 L416.98,180.61 L417.65,180.81 L418.33,180.99 L419.00,181.16 L419.68,181.30 L420.36,181.41 L421.03,181.49 L421.71,181.54 L422.39,181.55 L423.06,181.52 L423.74,181.45 L424.42,181.35 L425.09,181.21 L425.77,181.04 L426.45,180.85 L427.12,180.63 L427.80,180.39 L428.48,180.15 L429.15,179.89 L429.83,179.63 L430.50,179.38 L431.18,179.13 L431.86,178.89 L432.53,178.66 L433.21,178.45 L433.89,178.25 L434.56,178.07 L435.24,177.91 L435.92,177.76 L436.59,177.62 L437.27,177.50 L437.95,177.40 L438.62,177.30 L439.30,177.22 L439.98,177.15 L440.65,177.08 L441.33,177.02 L442.01,176.97 L442.68,176.92 L443.36,176.88 L444.03,176.85 L444.71,176.81 L445.39,176.78 L446.06,176.75 L446.74,176.71 L447.42,176.56 L448.09,176.04 L448.77,174.53 L449.45,171.30 L450.12,166.51 L450.80,162.11 L451.48,160.84 L452.15,163.62 L452.83,168.50 L453.51,172.77 L454.18,175.24 L454.86,176.25 L455.54,176.55 L456.21,176.62 L456.89,176.64 L457.56,176.65 L458.24,176.67 L458.92,176.68 L459.59,176.70 L460.27,176.72 L460.95,176.74 L461.62,176.76 L462.30,176.78 L462.98,176.81 L463.65,176.84 L464.33,176.87 L465.01,176.90 L465.68,176.93 L466.36,176.96 L467.04,177.00 L467.71,177.04 L468.39,177.07 L469.07,177.08 L469.74,176.95 L470.42,176.37 L471.10,174.67 L471.77,171.24 L472.45,166.51 L473.12,162.70 L473.80,162.34 L474.48,165.71 L475.15,170.56 L475.83,174.44 L476.51,176.54 L477.18,177.36 L477.86,177.63 L478.54,177.72 L479.21,177.77 L479.89,177.82 L480.57,177.86 L481.24,177.91 L481.92,177.95 L482.60,177.99 L483.27,178.03 L483.95,178.07 L484.62,178.12 L485.30,178.15 L485.98,178.19 L486.65,178.23 L487.33,178.26 L488.01,178.30 L488.68,178.33 L489.36,178.36 L490.04,178.39 L490.71,178.42 L491.39,178.45 L492.07,178.47 L492.74,178.49 L493.42,178.52 L494.10,178.53 L494.77,178.55 L495.45,178.57 L496.13,178.58 L496.80,178.59 L497.48,178.60 L498.15,178.61 L498.83,178.61 L499.51,178.62 L500.18,178.62 L500.86,178.62 L501.54,178.61 L502.21,178.61 L502.89,178.60 L503.57,178.59 L504.24,178.58 L504.92,178.57 L505.60,178.55 L506.27,178.53 L506.95,178.51 L507.63,178.49 L508.30,178.47 L508.98,178.44 L509.66,178.42 L510.33,178.39 L511.01,178.36 L511.69,178.33 L512.36,178.29 L513.04,178.26 L513.71,178.22 L514.39,178.19 L515.07,178.15 L515.74,178.11 L516.42,178.07 L517.10,178.03 L517.77,177.98 L518.45,177.94 L519.13,177.90 L519.80,177.85 L520.48,177.81 L521.16,177.76 L521.83,177.72 L522.51,177.67 L523.19,177.62 L523.86,177.58 L524.54,177.53 L525.22,177.48 L525.89,177.44 L526.57,177.39 L527.24,177.35 L527.92,177.30 L528.60,177.26 L529.27,177.22 L529.95,177.17 L530.63,177.13 L531.30,177.09 L531.98,177.05" fill="none" stroke="#16c608" stroke-width="1" opacity="0.9"/>
<path d="M315.50,176.59 L316.18,176.71 L316.85,176.82 L317.53,176.93 L318.21,177.02 L318.88,177.10 L319.56,177.16 L320.24,177.21 L320.91,177.25 L321.59,177.27 L322.26,177.27 L322.94,177.26 L323.62,177.24 L324.29,177.19 L324.97,177.14 L325.65,177.07 L326.32,176.98 L327.00,176.89 L327.68,176.78 L328.35,176.67 L329.03,176.55 L329.71,176.42 L330.38,176.29 L331.06,176.16 L331.74,176.03 L332.41,175.90 L333.09,175.77 L333.77,175.65 L334.44,175.53 L335.12,175.43 L335.80,175.33 L336.47,175.25 L337.15,175.18 L337.82,175.12 L338.50,175.07 L339.18,175.04 L339.85,175.03 L340.53,175.03 L341.21,175.05 L341.88,175.08 L342.56,175.12 L343.24,175.18 L343.91,175.25 L344.59,175.32 L345.27,175.38 L345.94,175.43 L346.62,175.46 L347.30,175.47 L347.97,175.45 L348.65,175.42 L349.32,175.36 L350.00,175.28 L350.68,175.15 L351.35,174.96 L352.03,174.72 L352.71,174.43 L353.38,174.11 L354.06,173.75 L354.74,173.35 L355.41,172.89 L356.09,172.38 L356.77,171.78 L357.44,171.12 L358.12,170.45 L358.80,169.74 L359.47,168.92 L360.15,167.95 L360.83,166.78 L361.50,165.49 L362.18,164.08 L362.86,162.56 L363.53,160.92 L364.21,159.14 L364.88,157.22 L365.56,155.13 L366.24,152.91 L366.91,150.58 L367.59,148.17 L368.27,145.73 L368.94,143.28 L369.62,140.87 L370.30,138.47 L370.97,136.04 L371.65,133.53 L372.33,130.89 L373.00,128.10 L373.68,125.06 L374.36,121.52 L375.03,117.64 L375.71,113.71 L376.38,109.99 L377.06,106.74 L377.74,103.89 L378.41,101.19 L379.09,98.37 L379.77,95.47 L380.44,92.79 L381.12,90.61 L381.80,88.88 L382.47,87.52 L383.15,86.45 L383.83,85.71 L384.50,85.47 L385.18,85.77 L385.86,86.47 L386.53,87.46 L387.21,88.72 L387.89,90.31 L388.56,92.14 L389.24,94.16 L389.91,96.41 L390.59,98.73 L391.27,100.99 L391.94,103.20 L392.62,105.40 L393.30,107.62 L393.97,109.90 L394.65,112.25 L395.33,114.58 L396.00,116.92 L396.68,119.32 L397.36,121.79 L398.03,124.37 L398.71,127.10 L399.39,130.12 L400.06,133.33 L400.74,136.62 L401.42,139.85 L402.09,142.88 L402.77,145.74 L403.44,148.53 L404.12,151.26 L404.80,153.93 L405.47,156.57 L406.15,159.17 L406.83,161.73 L407.50,164.20 L408.18,166.52 L408.86,168.65 L409.53,170.52 L410.21,172.12 L410.89,173.49 L411.56,174.72 L412.24,175.86 L412.92,176.89 L413.59,177.81 L414.27,178.62 L414.95,179.34 L415.62,179.99 L416.30,180.55 L416.98,181.05 L417.65,181.49 L418.33,181.92 L419.00,182.33 L419.68,182.71 L420.36,183.07 L421.03,183.40 L421.71,183.69 L422.39,183.94 L423.06,184.13 L423.74,184.29 L424.42,184.39 L425.09,184.44 L425.77,184.45 L426.45,184.41 L427.12,184.33 L427.80,184.21 L428.48,184.06 L429.15,183.88 L429.83,183.68 L430.50,183.46 L431.18,183.23 L431.86,183.00 L432.53,182.76 L433.21,182.53 L433.89,182.30 L434.56,182.07 L435.24,181.86 L435.92,181.65 L436.59,181.45 L437.27,181.26 L437.95,181.08 L438.62,180.90 L439.30,180.74 L439.98,180.57 L440.65,180.42 L441.33,180.27 L442.01,180.12 L442.68,179.97 L443.36,179.83 L444.03,179.68 L444.71,179.54 L445.39,179.41 L446.06,179.27 L446.74,179.14 L447.42,179.01 L448.09,178.88 L448.77,178.75 L449.45,178.63 L450.12,178.52 L450.80,178.41 L451.48,178.31 L452.15,178.21 L452.83,178.12 L453.51,178.04 L454.18,177.97 L454.86,177.90 L455.54,177.85 L456.21,177.80 L456.89,177.76 L457.56,177.73 L458.24,177.71 L458.92,177.71 L459.59,177.71 L460.27,177.72 L460.95,177.74 L461.62,177.77 L462.30,177.82 L462.98,177.87 L463.65,177.93 L464.33,177.99 L465.01,178.07 L465.68,178.16 L466.36,178.25 L467.04,178.35 L467.71,178.46 L468.39,178.57 L469.07,178.68 L469.74,178.81 L470.42,178.93 L471.10,179.06 L471.77,179.19 L472.45,179.32 L473.12,179.46 L473.80,179.59 L474.48,179.72 L475.15,179.85 L475.83,179.98 L476.51,180.11 L477.18,180.23 L477.86,180.35 L478.54,180.47 L479.21,180.58 L479.89,180.68 L480.57,180.77 L481.24,180.86 L481.92,180.94 L482.60,181.02 L483.27,181.08 L483.95,181.13 L484.62,181.18 L485.30,181.22 L485.98,181.24 L486.65,181.26 L487.33,181.26 L488.01,181.26 L488.68,181.25 L489.36,181.22 L490.04,181.19 L490.71,181.15 L491.39,181.09 L492.07,181.03 L492.74,180.96 L493.42,180.88 L494.10,180.80 L494.77,180.70 L495.45,180.60 L496.13,180.49 L496.80,180.38 L497.48,180.26 L498.15,180.14 L498.83,180.01 L499.51,179.89 L500.18,179.75 L500.86,179.62 L501.54,179.49 L502.21,179.36 L502.89,179.22 L503.57,179.09 L504.24,178.96 L504.92,178.84 L505.60,178.71 L506.27,178.60 L506.95,178.48 L507.63,178.38 L508.30,178.27 L508.98,178.18 L509.66,178.09 L510.33,178.01 L511.01,177.94 L511.69,177.88 L512.36,177.83 L513.04,177.79 L513.71,177.75 L514.39,177.73 L515.07,177.71 L515.74,177.71 L516.42,177.71 L517.10,177.73 L517.77,177.76 L518.45,177.79 L519.13,177.84 L519.80,177.89 L520.48,177.95 L521.16,178.02 L521.83,178.10 L522.51,178.19 L523.19,178.29 L523.86,178.39 L524.54,178.50 L525.22,178.61 L525.89,178.73 L526.57,178.85 L527.24,178.97 L527.92,179.10 L528.60,179.23 L529.27,179.36 L529.95,179.50 L530.63,179.63 L531.30,179.76 L531.98,179.89" fill="none" stroke="#16c608" stroke-width="1" opacity="0.9"/>
<path d="M315.50,180.54 L316.18,180.53 L316.85,180.52 L317.53,180.50 L318.21,180.49 L318.88,180.47 L319.56,180.44 L320.24,180.42 L320.91,180.39 L321.59,180.36 L322.26,180.33 L322.94,180.30 L323.62,180.26 L324.29,180.23 L324.97,180.19 L325.65,180.15 L326.32,180.11 L327.00,180.06 L327.68,180.02 L328.35,179.98 L329.03,179.93 L329.71,179.88 L330.38,179.84 L331.06,179.79 L331.74,179.75 L332.41,179.70 L333.09,179.65 L333.77,179.61 L334.44,179.57 L335.12,179.52 L335.80,179.48 L336.47,179.44 L337.15,179.40 L337.82,179.36 L338.50,179.33 L339.18,179.29 L339.85,179.26 L340.53,179.23 L341.21,179.21 L341.88,179.18 L342.56,179.16 L343.24,179.14 L343.91,179.13 L344.59,179.09 L345.27,179.03 L345.94,178.96 L346.62,178.87 L347.30,178.76 L347.97,178.63 L348.65,178.49 L349.32,178.34 L350.00,178.15 L350.68,177.92 L351.35,177.66 L352.03,177.36 L352.71,177.04 L353.38,176.69 L354.06,176.32 L354.74,175.91 L355.41,175.45 L356.09,174.91 L356.77,174.30 L357.44,173.69 L358.12,173.03 L358.80,172.27 L359.47,171.35 L360.15,170.22 L360.83,168.95 L361.50,167.57 L362.18,166.07 L362.86,164.44 L363.53,162.67 L364.21,160.74 L364.88,158.65 L365.56,156.41 L366.24,154.06 L366.91,151.64 L367.59,149.17 L368.27,146.71 L368.94,144.27 L369.62,141.84 L370.30,139.38 L370.97,136.84 L371.65,134.18 L372.33,131.36 L373.00,128.29 L373.68,124.71 L374.36,120.79 L375.03,116.81 L375.71,113.05 L376.38,109.77 L377.06,106.89 L377.74,104.16 L378.41,101.31 L379.09,98.37 L379.77,95.67 L380.44,93.47 L381.12,91.72 L381.80,90.35 L382.47,89.27 L383.15,88.51 L383.83,88.27 L384.50,88.58 L385.18,89.28 L385.86,90.28 L386.53,91.56 L387.21,93.16 L387.89,95.01 L388.56,97.05 L389.24,99.32 L389.91,101.67 L390.59,103.95 L391.27,106.18 L391.94,108.41 L392.62,110.66 L393.30,112.96 L393.97,115.33 L394.65,117.69 L395.33,120.06 L396.00,122.48 L396.68,124.98 L397.36,127.60 L398.03,130.37 L398.71,133.43 L399.39,136.69 L400.06,140.02 L400.74,143.30 L401.42,146.38 L402.09,149.30 L402.77,152.15 L403.44,154.93 L404.12,157.67 L404.80,160.38 L405.47,163.06 L406.15,165.70 L406.83,168.25 L407.50,170.67 L408.18,172.90 L408.86,174.86 L409.53,176.56 L410.21,178.02 L410.89,179.35 L411.56,180.59 L412.24,181.71 L412.92,182.71 L413.59,183.60 L414.27,184.39 L414.95,185.09 L415.62,185.70 L416.30,186.24 L416.98,186.71 L417.65,187.15 L418.33,187.58 L419.00,187.99 L419.68,188.36 L420.36,188.71 L421.03,189.02 L421.71,189.30 L422.39,189.54 L423.06,189.75 L423.74,189.92 L424.42,190.05 L425.09,190.15 L425.77,190.21 L426.45,190.24 L427.12,190.25 L427.80,190.23 L428.48,190.19 L429.15,190.14 L429.83,190.07 L430.50,187.69 L431.18,187.61 L431.86,187.80 L432.53,188.24 L433.21,188.86 L433.89,189.58 L434.56,190.31 L435.24,190.94 L435.92,191.40 L436.59,191.63 L437.27,191.58 L437.95,191.26 L438.62,190.70 L439.30,189.96 L439.98,189.13 L440.65,188.30 L441.33,187.57 L442.01,187.02 L442.68,186.72 L443.36,186.69 L444.03,186.93 L444.71,187.42 L445.39,188.09 L446.06,188.85 L446.74,189.60 L447.42,190.26 L448.09,190.73 L448.77,190.96 L449.45,190.90 L450.12,190.57 L450.80,189.99 L451.48,189.22 L452.15,188.36 L452.83,187.49 L453.51,186.72 L454.18,186.12 L454.86,185.77 L455.54,185.69 L456.21,185.89 L456.89,186.34 L457.56,186.96 L458.24,187.67 L458.92,188.39 L459.59,189.01 L460.27,189.45 L460.95,189.64 L461.62,189.56 L462.30,189.20 L462.98,188.60 L463.65,187.81 L464.33,186.93 L465.01,186.06 L465.68,185.28 L466.36,184.68 L467.04,184.33 L467.71,184.25 L468.39,184.46 L469.07,184.91 L469.74,185.55 L470.42,186.28 L471.10,187.02 L471.77,187.66 L472.45,188.13 L473.12,188.36 L473.80,188.31 L474.48,187.98 L475.15,187.42 L475.83,186.68 L476.51,185.85 L477.18,185.02 L477.86,184.29 L478.54,183.74 L479.21,183.45 L479.89,183.43 L480.57,183.70 L481.24,184.21 L481.92,184.91 L482.60,185.71 L483.27,186.52 L483.95,187.23 L484.62,187.76 L485.30,188.06 L485.98,188.08 L486.65,187.83 L487.33,187.33 L488.01,186.67 L488.68,185.90 L489.36,185.15 L490.04,184.49 L490.71,184.01 L491.39,183.79 L492.07,183.84 L492.74,184.18 L493.42,184.76 L494.10,185.52 L494.77,186.39 L495.45,187.25 L496.13,188.03 L496.80,188.62 L497.48,188.97 L498.15,189.05 L498.83,188.85 L499.51,188.41 L500.18,187.78 L500.86,187.07 L501.54,186.35 L502.21,185.73 L502.89,185.29 L503.57,185.10 L504.24,185.18 L504.92,185.54 L505.60,186.15 L506.27,186.93 L506.95,187.81 L507.63,188.69 L508.30,189.48 L508.98,190.07 L509.66,190.43 L510.33,190.50 L511.01,190.30 L511.69,189.85 L512.36,189.22 L513.04,188.48 L513.71,187.75 L514.39,187.11 L515.07,186.65 L515.74,186.42 L516.42,186.48 L517.10,186.80 L517.77,187.37 L518.45,188.11 L519.13,188.95 L519.80,189.78 L520.48,190.52 L521.16,191.06 L521.83,191.36 L522.51,191.38 L523.19,191.12 L523.86,190.61 L524.54,189.91 L525.22,189.12 L525.89,188.32 L526.57,187.61 L527.24,187.08 L527.92,186.79 L528.60,186.77 L529.27,187.03 L529.95,187.52 L530.63,188.19 L531.30,188.96 L531.98,189.72" fill="none" stroke="#16c608" stroke-width="1" opacity="0.9"/>
<path d="M315.50,178.99 L316.18,179.04 L316.85,179.09 L317.53,179.14 L318.21,179.20 L318.88,179.25 L319.56,179.31 L320.24,179.37 L320.91,179.44 L321.59,179.50 L322.26,179.55 L322.94,179.61 L323.62,179.67 L324.29,179.72 L324.97,179.77 L325.65,179.81 L326.32,179.85 L327.00,179.88 L327.68,179.91 L328.35,179.94 L329.03,179.95 L329.71,179.96 L330.38,179.97 L331.06,179.96 L331.74,179.96 L332.41,179.94 L333.09,179.92 L333.77,179.89 L334.44,179.86 L335.12,179.82 L335.80,179.77 L336.47,179.72 L337.15,179.67 L337.82,179.61 L338.50,179.55 L339.18,179.49 L339.85,179.43 L340.53,179.36 L341.21,179.30 L341.88,179.23 L342.56,179.17 L343.24,179.08 L343.91,178.98 L344.59,178.86 L345.27,178.72 L345.94,178.57 L346.62,178.41 L347.30,178.23 L347.97,178.04 L348.65,177.83 L349.32,177.58 L350.00,177.29 L350.68,176.99 L351.35,176.66 L352.03,176.31 L352.71,175.94 L353.38,175.54 L354.06,175.08 L354.74,174.55 L355.41,173.96 L356.09,173.37 L356.77,172.73 L357.44,171.99 L358.12,171.09 L358.80,169.99 L359.47,168.76 L360.15,167.42 L360.83,165.95 L361.50,164.36 L362.18,162.64 L362.86,160.76 L363.53,158.72 L364.21,156.54 L364.88,154.25 L365.56,151.89 L366.24,149.49 L366.91,147.08 L367.59,144.71 L368.27,142.34 L368.94,139.95 L369.62,137.47 L370.30,134.88 L370.97,132.13 L371.65,129.14 L372.33,125.65 L373.00,121.83 L373.68,117.95 L374.36,114.29 L375.03,111.09 L375.71,108.28 L376.38,105.62 L377.06,102.84 L377.74,99.98 L378.41,97.35 L379.09,95.20 L379.77,93.50 L380.44,92.16 L381.12,91.11 L381.80,90.37 L382.47,90.14 L383.15,90.44 L383.83,91.12 L384.50,92.10 L385.18,93.34 L385.86,94.91 L386.53,96.71 L387.21,98.69 L387.89,100.91 L388.56,103.20 L389.24,105.42 L389.91,107.60 L390.59,109.76 L391.27,111.96 L391.94,114.21 L392.62,116.52 L393.30,118.82 L393.97,121.13 L394.65,123.49 L395.33,125.93 L396.00,128.48 L396.68,131.18 L397.36,134.16 L398.03,137.34 L398.71,140.60 L399.39,143.79 L400.06,146.80 L400.74,149.65 L401.42,152.43 L402.09,155.15 L402.77,157.83 L403.44,160.47 L404.12,163.09 L404.80,165.67 L405.47,168.17 L406.15,170.53 L406.83,172.71 L407.50,174.63 L408.18,176.29 L408.86,177.72 L409.53,179.03 L410.21,180.24 L410.89,181.34 L411.56,182.33 L412.24,183.21 L412.92,183.99 L413.59,184.69 L414.27,185.31 L414.95,185.86 L415.62,186.35 L416.30,186.81 L416.98,187.27 L417.65,187.70 L418.33,188.11 L419.00,188.49 L419.68,188.84 L420.36,189.16 L421.03,189.44 L421.71,189.68 L422.39,189.88 L423.06,190.04 L423.74,190.15 L424.42,190.22 L425.09,190.25 L425.77,190.23 L426.45,190.18 L427.12,190.09 L427.80,189.96 L428.48,189.81 L429.15,189.62 L429.83,189.42 L430.50,189.20 L431.18,188.96 L431.86,188.72 L432.53,188.48 L433.21,188.23 L433.89,187.99 L434.56,187.76 L435.24,187.55 L435.92,187.34 L436.59,187.15 L437.27,185.28 L437.95,184.98 L438.62,184.85 L439.30,184.88 L439.98,185.08 L440.65,185.40 L441.33,185.82 L442.01,186.30 L442.68,186.80 L443.36,187.27 L444.03,187.66 L444.71,187.95 L445.39,188.11 L446.06,188.12 L446.74,188.00 L447.42,187.73 L448.09,187.35 L448.77,186.90 L449.45,186.40 L450.12,185.89 L450.80,185.43 L451.48,185.05 L452.15,184.78 L452.83,184.64 L453.51,184.64 L454.18,184.80 L454.86,185.08 L455.54,185.47 L456.21,185.94 L456.89,186.45 L457.56,186.95 L458.24,187.41 L458.92,187.78 L459.59,188.02 L460.27,188.13 L460.95,188.08 L461.62,187.88 L462.30,187.54 L462.98,187.08 L463.65,186.53 L464.33,185.94 L465.01,185.34 L465.68,184.79 L466.36,184.32 L467.04,183.96 L467.71,183.74 L468.39,183.66 L469.07,183.74 L469.74,183.95 L470.42,184.29 L471.10,184.70 L471.77,185.16 L472.45,185.62 L473.12,186.04 L473.80,186.38 L474.48,186.61 L475.15,186.71 L475.83,186.66 L476.51,186.47 L477.18,186.14 L477.86,185.70 L478.54,185.19 L479.21,184.64 L479.89,184.10 L480.57,183.60 L481.24,183.19 L481.92,182.90 L482.60,182.76 L483.27,182.76 L483.95,182.93 L484.62,183.24 L485.30,183.66 L485.98,184.18 L486.65,184.74 L487.33,185.31 L488.01,185.84 L488.68,186.29 L489.36,186.63 L490.04,186.84 L490.71,186.90 L491.39,186.81 L492.07,186.59 L492.74,186.26 L493.42,185.85 L494.10,185.39 L494.77,184.94 L495.45,184.53 L496.13,184.20 L496.80,183.99 L497.48,183.91 L498.15,183.98 L498.83,184.20 L499.51,184.55 L500.18,185.02 L500.86,185.57 L501.54,186.15 L502.21,186.73 L502.89,187.27 L503.57,187.72 L504.24,188.05 L504.92,188.23 L505.60,188.27 L506.27,188.15 L506.95,187.88 L507.63,187.50 L508.30,187.02 L508.98,186.50 L509.66,185.98 L510.33,185.49 L511.01,185.07 L511.69,184.77 L512.36,184.60 L513.04,184.57 L513.71,184.69 L514.39,184.94 L515.07,185.30 L515.74,185.73 L516.42,186.21 L517.10,186.68 L517.77,187.10 L518.45,187.44 L519.13,187.66 L519.80,187.74 L520.48,187.67 L521.16,187.45 L521.83,187.09 L522.51,186.62 L523.19,186.06 L523.86,185.46 L524.54,184.86 L525.22,184.30 L525.89,183.83 L526.57,183.47 L527.24,183.25 L527.92,183.18 L528.60,183.27 L529.27,183.50 L529.95,183.85 L530.63,184.28 L531.30,184.76 L531.98,185.24" fill="none" stroke="#16c608" stroke-width="1" opacity="0.9"/>
<path d="M315.50,177.78 L316.18,177.82 L316.85,177.88 L317.53,177.94 L318.21,178.00 L318.88,178.06 L319.56,178.13 L320.24,178.20 L320.91,178.28 L321.59,178.35 L322.26,178.43 L322.94,178.52 L323.62,178.60 L324.29,178.68 L324.97,178.77 L325.65,178.85 L326.32,178.94 L327.00,179.03 L327.68,179.11 L328.35,179.20 L329.03,179.28 L329.71,179.36 L330.38,179.44 L331.06,179.51 L331.74,179.59 L332.41,179.66 L333.09,179.73 L333.77,179.79 L334.44,179.85 L335.12,179.91 L335.80,179.96 L336.47,180.00 L337.15,180.04 L337.82,180.07 L338.50,180.10 L339.18,180.13 L339.85,180.14 L340.53,180.15 L341.21,180.15 L341.88,180.15 L342.56,180.13 L343.24,180.11 L343.91,180.09 L344.59,180.05 L345.27,179.98 L345.94,179.89 L346.62,179.77 L347.30,179.62 L347.97,179.45 L348.65,179.25 L349.32,179.03 L350.00,178.80 L350.68,178.52 L351.35,178.20 L352.03,177.85 L352.71,177.47 L353.38,177.06 L354.06,176.64 L354.74,176.21 L355.41,175.74 L356.09,175.22 L356.77,174.65 L357.44,174.02 L358.12,173.40 L358.80,172.75 L359.47,172.01 L360.15,171.13 L360.83,170.07 L361.50,168.88 L362.18,167.60 L362.86,166.21 L363.53,164.71 L364.21,163.07 L364.88,161.31 L365.56,159.39 L366.24,157.33 L366.91,155.18 L367.59,152.96 L368.27,150.70 L368.94,148.43 L369.62,146.20 L370.30,143.97 L370.97,141.72 L371.65,139.39 L372.33,136.95 L373.00,134.36 L373.68,131.54 L374.36,128.26 L375.03,124.66 L375.71,121.01 L376.38,117.56 L377.06,114.54 L377.74,111.90 L378.41,109.39 L379.09,106.78 L379.77,104.08 L380.44,101.60 L381.12,99.58 L381.80,97.98 L382.47,96.72 L383.15,95.72 L383.83,95.03 L384.50,94.81 L385.18,95.09 L385.86,95.74 L386.53,96.66 L387.21,97.83 L387.89,99.30 L388.56,101.00 L389.24,102.87 L389.91,104.96 L390.59,107.12 L391.27,109.21 L391.94,111.26 L392.62,113.30 L393.30,115.37 L393.97,117.49 L394.65,119.66 L395.33,121.82 L396.00,124.00 L396.68,126.22 L397.36,128.51 L398.03,130.91 L398.71,133.45 L399.39,136.24 L400.06,139.23 L400.74,142.28 L401.42,145.27 L402.09,148.09 L402.77,150.75 L403.44,153.34 L404.12,155.87 L404.80,158.36 L405.47,160.81 L406.15,163.24 L406.83,165.62 L407.50,167.92 L408.18,170.09 L408.86,172.08 L409.53,173.83 L410.21,175.33 L410.89,176.61 L411.56,177.78 L412.24,178.85 L412.92,179.81 L413.59,180.68 L414.27,181.43 L414.95,182.10 L415.62,182.68 L416.30,183.18 L416.98,183.62 L417.65,183.99 L418.33,184.33 L419.00,184.65 L419.68,184.93 L420.36,185.19 L421.03,185.40 L421.71,185.57 L422.39,185.70 L423.06,185.79 L423.74,185.84 L424.42,185.84 L425.09,185.80 L425.77,185.74 L426.45,185.64 L427.12,185.51 L427.80,185.37 L428.48,185.21 L429.15,185.03 L429.83,184.85 L430.50,184.67 L431.18,184.49 L431.86,184.31 L432.53,184.13 L433.21,183.96 L433.89,183.80 L434.56,183.64 L435.24,183.48 L435.92,183.33 L436.59,183.19 L437.27,183.04 L437.95,182.90 L438.62,182.76 L439.30,182.62 L439.98,182.48 L440.65,182.34 L441.33,182.19 L442.01,182.04 L442.68,181.89 L443.36,181.74 L444.03,181.58 L444.71,181.43 L445.39,181.28 L446.06,181.12 L446.74,180.97 L447.42,180.82 L448.09,180.68 L448.77,180.54 L449.45,180.40 L450.12,180.28 L450.80,180.16 L451.48,180.05 L452.15,179.95 L452.83,179.86 L453.51,179.79 L454.18,179.72 L454.86,179.67 L455.54,179.63 L456.21,179.60 L456.89,179.59 L457.56,179.60 L458.24,179.61 L458.92,179.64 L459.59,179.68 L460.27,179.74 L460.95,179.81 L461.62,179.89 L462.30,179.98 L462.98,180.08 L463.65,180.20 L464.33,180.32 L465.01,180.45 L465.68,180.59 L466.36,180.73 L467.04,180.88 L467.71,181.03 L468.39,181.18 L469.07,181.34 L469.74,181.49 L470.42,181.64 L471.10,181.80 L471.77,181.94 L472.45,182.09 L473.12,182.22 L473.80,182.35 L474.48,182.48 L475.15,182.59 L475.83,182.69 L476.51,182.78 L477.18,182.86 L477.86,182.93 L478.54,182.99 L479.21,183.03 L479.89,183.06 L480.57,183.08 L481.24,183.08 L481.92,183.07 L482.60,183.04 L483.27,183.00 L483.95,182.95 L484.62,182.89 L485.30,182.81 L485.98,182.72 L486.65,182.62 L487.33,182.51 L488.01,182.39 L488.68,182.27 L489.36,182.13 L490.04,181.99 L490.71,181.85 L491.39,181.70 L492.07,181.54 L492.74,181.39 L493.42,181.23 L494.10,181.08 L494.77,180.93 L495.45,180.78 L496.13,180.64 L496.80,180.50 L497.48,180.37 L498.15,180.24 L498.83,180.13 L499.51,180.02 L500.18,179.93 L500.86,179.84 L501.54,179.77 L502.21,179.71 L502.89,179.66 L503.57,179.63 L504.24,179.61 L504.92,179.61 L505.60,179.61 L506.27,179.63 L506.95,179.67 L507.63,179.72 L508.30,179.78 L508.98,179.85 L509.66,179.94 L510.33,180.03 L511.01,180.14 L511.69,180.25 L512.36,180.38 L513.04,180.51 L513.71,180.65 L514.39,180.79 L515.07,180.94 L515.74,181.09 L516.42,181.25 L517.10,181.40 L517.77,181.55 L518.45,181.71 L519.13,181.85 L519.80,182.00 L520.48,182.14 L521.16,182.27 L521.83,182.40 L522.51,182.51 L523.19,182.62 L523.86,182.72 L524.54,182.80 L525.22,182.88 L525.89,182.94 L526.57,182.99 L527.24,183.02 L527.92,183.04 L528.60,183.05 L529.27,183.05 L529.95,183.03 L530.63,183.00 L531.30,182.95 L531.98,182.89" fill="none" stroke="#16c608" stroke-width="1" opacity="0.9"/>
<path d="M315.50,177.47 L316.18,177.47 L316.85,177.47 L317.53,177.48 L318.21,177.49 L318.88,177.52 L319.56,177.55 L320.24,177.58 L320.91,177.63 L321.59,177.67 L322.26,177.73 L322.94,177.79 L323.62,177.85 L324.29,177.91 L324.97,177.97 L325.65,178.04 L326.32,178.10 L327.00,178.17 L327.68,178.23 L328.35,178.28 L329.03,178.33 L329.71,178.38 L330.38,178.42 L331.06,178.46 L331.74,178.49 L332.41,178.51 L333.09,178.52 L333.77,178.52 L334.44,178.52 L335.12,178.51 L335.80,178.49 L336.47,178.46 L337.15,178.42 L337.82,178.38 L338.50,178.33 L339.18,178.28 L339.85,178.22 L340.53,178.15 L341.21,178.09 L341.88,178.02 L342.56,177.95 L343.24,177.87 L343.91,177.79 L344.59,177.68 L345.27,177.56 L345.94,177.42 L346.62,177.28 L347.30,177.12 L347.97,176.96 L348.65,176.79 L349.32,176.60 L350.00,176.37 L350.68,176.12 L351.35,175.85 L352.03,175.57 L352.71,175.27 L353.38,174.95 L354.06,174.60 L354.74,174.21 L355.41,173.75 L356.09,173.24 L356.77,172.72 L357.44,172.17 L358.12,171.52 L358.80,170.74 L359.47,169.78 L360.15,168.70 L360.83,167.53 L361.50,166.25 L362.18,164.86 L362.86,163.35 L363.53,161.71 L364.21,159.92 L364.88,158.01 L365.56,156.01 L366.24,153.94 L366.91,151.84 L367.59,149.74 L368.27,147.66 L368.94,145.59 L369.62,143.49 L370.30,141.33 L370.97,139.07 L371.65,136.66 L372.33,134.04 L373.00,130.99 L373.68,127.65 L374.36,124.26 L375.03,121.06 L375.71,118.26 L376.38,115.81 L377.06,113.48 L377.74,111.05 L378.41,108.55 L379.09,106.25 L379.77,104.37 L380.44,102.89 L381.12,101.72 L381.80,100.79 L382.47,100.15 L383.15,99.95 L383.83,100.21 L384.50,100.81 L385.18,101.66 L385.86,102.75 L386.53,104.12 L387.21,105.69 L387.89,107.43 L388.56,109.36 L389.24,111.37 L389.91,113.31 L390.59,115.21 L391.27,117.11 L391.94,119.03 L392.62,120.99 L393.30,123.01 L393.97,125.02 L394.65,127.04 L395.33,129.10 L396.00,131.23 L396.68,133.46 L397.36,135.82 L398.03,138.42 L398.71,141.20 L399.39,144.04 L400.06,146.82 L400.74,149.44 L401.42,151.92 L402.09,154.34 L402.77,156.70 L403.44,159.02 L404.12,161.31 L404.80,163.58 L405.47,165.81 L406.15,167.95 L406.83,169.98 L407.50,171.85 L408.18,173.49 L408.86,174.90 L409.53,176.11 L410.21,177.21 L410.89,178.22 L411.56,179.14 L412.24,179.95 L412.92,180.67 L413.59,181.31 L414.27,181.88 L414.95,182.37 L415.62,182.80 L416.30,183.18 L416.98,183.54 L417.65,183.89 L418.33,184.21 L419.00,184.51 L419.68,184.78 L420.36,185.02 L421.03,185.22 L421.71,185.38 L422.39,185.51 L423.06,185.59 L423.74,185.63 L424.42,185.63 L425.09,185.60 L425.77,185.53 L426.45,185.44 L427.12,185.31 L427.80,185.17 L428.48,185.02 L429.15,184.85 L429.83,184.69 L430.50,184.52 L431.18,184.36 L431.86,184.21 L432.53,184.08 L433.21,183.96 L433.89,183.86 L434.56,183.78 L435.24,183.72 L435.92,183.68 L436.59,183.66 L437.27,183.66 L437.95,183.68 L438.62,183.70 L439.30,183.75 L439.98,183.80 L440.65,183.86 L441.33,183.93 L442.01,184.01 L442.68,184.09 L443.36,184.17 L444.03,184.25 L444.71,184.33 L445.39,184.42 L446.06,184.49 L446.74,184.57 L447.42,184.64 L448.09,184.71 L448.77,184.77 L449.45,184.83 L450.12,184.88 L450.80,184.93 L451.48,184.97 L452.15,185.01 L452.83,185.03 L453.51,185.05 L454.18,185.07 L454.86,185.08 L455.54,185.08 L456.21,185.07 L456.89,185.06 L457.56,185.04 L458.24,185.02 L458.92,184.99 L459.59,184.95 L460.27,184.91 L460.95,184.86 L461.62,184.80 L462.30,184.74 L462.98,184.67 L463.65,184.60 L464.33,184.52 L465.01,184.44 L465.68,184.36 L466.36,184.27 L467.04,184.17 L467.71,184.08 L468.39,183.98 L469.07,183.87 L469.74,183.77 L470.42,183.66 L471.10,183.55 L471.77,183.44 L472.45,183.33 L473.12,183.22 L473.80,183.11 L474.48,183.00 L475.15,182.89 L475.83,182.78 L476.51,182.67 L477.18,182.56 L477.86,182.46 L478.54,182.36 L479.21,182.26 L479.89,182.16 L480.57,182.07 L481.24,181.98 L481.92,181.90 L482.60,181.82 L483.27,181.75 L483.95,181.68 L484.62,181.61 L485.30,181.56 L485.98,181.50 L486.65,181.46 L487.33,181.41 L488.01,181.38 L488.68,181.35 L489.36,181.33 L490.04,181.31 L490.71,181.31 L491.39,181.30 L492.07,181.31 L492.74,181.32 L493.42,181.33 L494.10,181.36 L494.77,181.39 L495.45,181.42 L496.13,181.47 L496.80,181.52 L497.48,181.57 L498.15,181.63 L498.83,181.70 L499.51,181.77 L500.18,181.84 L500.86,181.92 L501.54,182.01 L502.21,182.10 L502.89,182.19 L503.57,182.28 L504.24,182.38 L504.92,182.49 L505.60,182.59 L506.27,182.70 L506.95,182.80 L507.63,182.91 L508.30,183.02 L508.98,183.14 L509.66,183.25 L510.33,183.36 L511.01,183.47 L511.69,183.58 L512.36,183.69 L513.04,183.79 L513.71,183.90 L514.39,184.00 L515.07,184.10 L515.74,184.20 L516.42,184.29 L517.10,184.38 L517.77,184.46 L518.45,184.54 L519.13,184.62 L519.80,184.69 L520.48,184.75 L521.16,184.81 L521.83,184.87 L522.51,184.92 L523.19,184.96 L523.86,184.99 L524.54,185.02 L525.22,185.05 L525.89,185.07 L526.57,185.08 L527.24,185.08 L527.92,185.08 L528.60,185.07 L529.27,185.05 L529.95,185.03 L530.63,185.00 L531.30,184.97 L531.98,184.93" fill="none" stroke="#16c608" stroke-width="1" opacity="0.9"/>
<path d="M315.50,177.15 L316.18,177.15 L316.85,177.15 L317.53,177.15 L318.21,177.17 L318.88,177.19 L319.56,177.21 L320.24,177.24 L320.91,177.28 L321.59,177.32 L322.26,177.36 L322.94,177.41 L323.62,177.47 L324.29,177.53 L324.97,177.59 L325.65,177.65 L326.32,177.72 L327.00,177.78 L327.68,177.85 L328.35,177.92 L329.03,177.99 L329.71,178.06 L330.38,178.13 L331.06,178.20 L331.74,178.26 L332.41,178.33 L333.09,178.39 L333.77,178.44 L334.44,178.49 L335.12,178.54 L335.80,178.58 L336.47,178.61 L337.15,178.64 L337.82,178.65 L338.50,178.64 L339.18,178.60 L339.85,178.52 L340.53,178.41 L341.21,178.27 L341.88,178.09 L342.56,177.89 L343.24,177.66 L343.91,177.40 L344.59,177.09 L345.27,176.72 L345.94,176.31 L346.62,175.85 L347.30,175.36 L347.97,174.84 L348.65,174.30 L349.32,173.72 L350.00,173.08 L350.68,172.37 L351.35,171.58 L352.03,170.77 L352.71,169.94 L353.38,169.06 L354.06,168.05 L354.74,166.86 L355.41,165.44 L356.09,163.88 L356.77,162.19 L357.44,160.38 L358.12,158.43 L358.80,156.33 L359.47,154.07 L360.15,151.62 L360.83,148.99 L361.50,146.22 L362.18,143.35 L362.86,140.40 L363.53,137.42 L364.21,134.44 L364.88,131.50 L365.56,128.57 L366.24,125.60 L366.91,122.55 L367.59,119.36 L368.27,116.01 L368.94,112.43 L369.62,108.36 L370.30,103.77 L370.97,98.95 L371.65,94.20 L372.33,89.81 L373.00,85.99 L373.68,82.56 L374.36,79.25 L375.03,75.80 L375.71,72.25 L376.38,68.93 L377.06,66.15 L377.74,63.92 L378.41,62.13 L379.09,60.69 L379.77,59.57 L380.44,58.93 L381.12,58.93 L381.80,59.44 L382.47,60.35 L383.15,61.56 L383.83,63.05 L384.50,64.90 L385.18,67.02 L385.86,69.33 L386.53,71.90 L387.21,74.64 L387.89,77.37 L388.56,80.01 L389.24,82.62 L389.91,85.23 L390.59,87.86 L391.27,90.55 L391.94,93.32 L392.62,96.09 L393.30,98.86 L393.97,101.66 L394.65,104.52 L395.33,107.49 L396.00,110.58 L396.68,113.86 L397.36,117.44 L398.03,121.24 L398.71,125.15 L399.39,129.03 L400.06,132.75 L400.74,136.23 L401.42,139.62 L402.09,142.94 L402.77,146.21 L403.44,149.43 L404.12,152.62 L404.80,155.79 L405.47,158.93 L406.15,161.98 L406.83,164.92 L407.50,167.68 L408.18,170.20 L408.86,172.44 L409.53,174.39 L410.21,176.09 L410.89,177.65 L411.56,179.08 L412.24,180.38 L412.92,181.53 L413.59,182.52 L414.27,183.37 L414.95,184.09 L415.62,184.67 L416.30,185.13 L416.98,185.46 L417.65,185.69 L418.33,185.85 L419.00,185.96 L419.68,186.00 L420.36,185.99 L421.03,185.92 L421.71,185.79 L422.39,185.62 L423.06,185.40 L423.74,185.15 L424.42,184.86 L425.09,184.55 L425.77,184.23 L426.45,183.89 L427.12,183.56 L427.80,183.23 L428.48,182.91 L429.15,182.61 L429.83,182.32 L430.50,182.06 L431.18,181.82 L431.86,181.60 L432.53,181.41 L433.21,181.24 L433.89,181.10 L434.56,180.97 L435.24,180.87 L435.92,180.79 L436.59,180.72 L437.27,180.67 L437.95,180.63 L438.62,180.61 L439.30,180.59 L439.98,180.59 L440.65,180.60 L441.33,180.61 L442.01,180.63 L442.68,180.65 L443.36,180.68 L444.03,180.72 L444.71,180.76 L445.39,180.80 L446.06,180.85 L446.74,180.90 L447.42,180.96 L448.09,181.02 L448.77,181.08 L449.45,181.14 L450.12,181.21 L450.80,181.28 L451.48,181.35 L452.15,181.42 L452.83,181.50 L453.51,181.57 L454.18,181.65 L454.86,181.73 L455.54,181.81 L456.21,181.89 L456.89,181.97 L457.56,182.05 L458.24,182.13 L458.92,182.21 L459.59,182.29 L460.27,182.37 L460.95,182.45 L461.62,182.52 L462.30,182.60 L462.98,182.67 L463.65,182.75 L464.33,182.82 L465.01,182.89 L465.68,182.96 L466.36,183.02 L467.04,183.09 L467.71,183.15 L468.39,183.21 L469.07,183.26 L469.74,183.31 L470.42,183.36 L471.10,183.41 L471.77,183.45 L472.45,183.49 L473.12,183.52 L473.80,183.56 L474.48,183.58 L475.15,183.61 L475.83,183.63 L476.51,183.64 L477.18,183.66 L477.86,183.67 L478.54,183.67 L479.21,183.67 L479.89,183.67 L480.57,183.66 L481.24,183.65 L481.92,183.63 L482.60,183.61 L483.27,183.59 L483.95,183.56 L484.62,183.53 L485.30,183.50 L485.98,183.46 L486.65,183.42 L487.33,183.37 L488.01,183.33 L488.68,183.27 L489.36,183.22 L490.04,183.16 L490.71,183.10 L491.39,183.04 L492.07,182.98 L492.74,182.91 L493.42,182.84 L494.10,182.77 L494.77,182.70 L495.45,182.63 L496.13,182.55 L496.80,182.47 L497.48,182.40 L498.15,182.32 L498.83,182.24 L499.51,182.16 L500.18,182.08 L500.86,182.00 L501.54,181.92 L502.21,181.85 L502.89,181.77 L503.57,181.69 L504.24,181.62 L504.92,181.54 L505.60,181.47 L506.27,181.40 L506.95,181.33 L507.63,181.26 L508.30,181.19 L508.98,181.13 L509.66,181.07 L510.33,181.01 L511.01,180.95 L511.69,180.90 L512.36,180.85 L513.04,180.81 L513.71,180.76 L514.39,180.72 L515.07,180.69 L515.74,180.65 L516.42,180.62 L517.10,180.60 L517.77,180.58 L518.45,180.56 L519.13,180.55 L519.80,180.54 L520.48,180.53 L521.16,180.53 L521.83,180.53 L522.51,180.53 L523.19,180.54 L523.86,180.56 L524.54,180.58 L525.22,180.60 L525.89,180.62 L526.57,180.65 L527.24,180.68 L527.92,180.72 L528.60,180.76 L529.27,180.80 L529.95,180.85 L530.63,180.90 L531.30,180.95 L531.98,181.00" fill="none" stroke="#8410dc" stroke-width="1.35" opacity="0.9"/>
<path d="M315.50,176.70 L316.18,176.84 L316.85,176.98 L317.53,177.12 L318.21,177.27 L318.88,177.41 L319.56,177.54 L320.24,177.68 L320.91,177.80 L321.59,177.91 L322.26,178.02 L322.94,178.11 L323.62,178.19 L324.29,178.25 L324.97,178.30 L325.65,178.33 L326.32,178.35 L327.00,178.35 L327.68,178.33 L328.35,178.30 L329.03,178.25 L329.71,178.18 L330.38,178.10 L331.06,178.00 L331.74,177.90 L332.41,177.78 L333.09,177.65 L333.77,177.51 L334.44,177.37 L335.12,177.22 L335.80,177.07 L336.47,176.92 L337.15,176.77 L337.82,176.60 L338.50,176.41 L339.18,176.20 L339.85,175.98 L340.53,175.75 L341.21,175.51 L341.88,175.27 L342.56,175.02 L343.24,174.77 L343.91,174.48 L344.59,174.17 L345.27,173.83 L345.94,173.48 L346.62,173.10 L347.30,172.72 L347.97,172.32 L348.65,171.89 L349.32,171.41 L350.00,170.86 L350.68,170.22 L351.35,169.55 L352.03,168.86 L352.71,168.09 L353.38,167.19 L354.06,166.10 L354.74,164.76 L355.41,163.28 L356.09,161.66 L356.77,159.91 L357.44,158.01 L358.12,155.96 L358.80,153.74 L359.47,151.34 L360.15,148.76 L360.83,146.03 L361.50,143.20 L362.18,140.30 L362.86,137.36 L363.53,134.43 L364.21,131.54 L364.88,128.66 L365.56,125.74 L366.24,122.74 L366.91,119.61 L367.59,116.31 L368.27,112.80 L368.94,108.81 L369.62,104.30 L370.30,99.57 L370.97,94.91 L371.65,90.61 L372.33,86.86 L373.00,83.50 L373.68,80.26 L374.36,76.87 L375.03,73.39 L375.71,70.13 L376.38,67.41 L377.06,65.22 L377.74,63.46 L378.41,62.06 L379.09,60.96 L379.77,60.33 L380.44,60.32 L381.12,60.83 L381.80,61.72 L382.47,62.91 L383.15,64.37 L383.83,66.19 L384.50,68.26 L385.18,70.52 L385.86,73.05 L386.53,75.73 L387.21,78.41 L387.89,81.00 L388.56,83.55 L389.24,86.11 L389.91,88.70 L390.59,91.34 L391.27,94.06 L391.94,96.77 L392.62,99.49 L393.30,102.25 L393.97,105.07 L394.65,107.99 L395.33,111.04 L396.00,114.26 L396.68,117.79 L397.36,121.55 L398.03,125.41 L398.71,129.25 L399.39,132.93 L400.06,136.40 L400.74,139.77 L401.42,143.08 L402.09,146.34 L402.77,149.57 L403.44,152.76 L404.12,155.93 L404.80,159.08 L405.47,162.14 L406.15,165.07 L406.83,167.84 L407.50,170.36 L408.18,172.59 L408.86,174.54 L409.53,176.22 L410.21,177.76 L410.89,179.16 L411.56,180.42 L412.24,181.52 L412.92,182.45 L413.59,183.24 L414.27,183.89 L414.95,184.41 L415.62,184.81 L416.30,185.10 L416.98,185.29 L417.65,185.42 L418.33,185.51 L419.00,185.55 L419.68,185.56 L420.36,185.52 L421.03,185.45 L421.71,185.34 L422.39,185.21 L423.06,185.05 L423.74,184.87 L424.42,184.67 L425.09,184.46 L425.77,184.24 L426.45,184.02 L427.12,183.80 L427.80,183.59 L428.48,183.38 L429.15,183.18 L429.83,182.99 L430.50,182.82 L431.18,182.66 L431.86,182.52 L432.53,182.40 L433.21,182.29 L433.89,182.19 L434.56,182.11 L435.24,182.04 L435.92,181.99 L436.59,181.94 L437.27,181.91 L437.95,181.88 L438.62,181.86 L439.30,181.85 L439.98,181.84 L440.65,181.84 L441.33,181.84 L442.01,181.84 L442.68,181.84 L443.36,181.84 L444.03,181.84 L444.71,181.84 L445.39,181.83 L446.06,181.83 L446.74,181.82 L447.42,181.81 L448.09,181.80 L448.77,181.79 L449.45,181.77 L450.12,181.75 L450.80,181.72 L451.48,181.70 L452.15,181.67 L452.83,181.64 L453.51,181.60 L454.18,181.57 L454.86,181.53 L455.54,181.49 L456.21,181.44 L456.89,181.40 L457.56,181.35 L458.24,181.30 L458.92,181.25 L459.59,181.19 L460.27,181.14 L460.95,181.08 L461.62,181.02 L462.30,180.97 L462.98,180.91 L463.65,180.85 L464.33,180.79 L465.01,180.73 L465.68,180.67 L466.36,180.61 L467.04,180.54 L467.71,180.48 L468.39,180.42 L469.07,180.37 L469.74,180.31 L470.42,180.25 L471.10,180.19 L471.77,180.14 L472.45,180.09 L473.12,180.03 L473.80,179.98 L474.48,179.94 L475.15,179.89 L475.83,179.85 L476.51,179.81 L477.18,179.77 L477.86,179.73 L478.54,179.70 L479.21,179.66 L479.89,179.64 L480.57,179.61 L481.24,179.59 L481.92,179.57 L482.60,179.55 L483.27,179.54 L483.95,179.52 L484.62,179.52 L485.30,179.51 L485.98,179.51 L486.65,179.51 L487.33,179.52 L488.01,179.53 L488.68,179.54 L489.36,179.55 L490.04,179.57 L490.71,179.59 L491.39,179.62 L492.07,179.64 L492.74,179.67 L493.42,179.70 L494.10,179.74 L494.77,179.78 L495.45,179.82 L496.13,179.86 L496.80,179.90 L497.48,179.95 L498.15,180.00 L498.83,180.05 L499.51,180.10 L500.18,180.16 L500.86,180.21 L501.54,180.27 L502.21,180.33 L502.89,180.39 L503.57,180.45 L504.24,180.51 L504.92,180.57 L505.60,180.63 L506.27,180.69 L506.95,180.75 L507.63,180.81 L508.30,180.87 L508.98,180.94 L509.66,180.99 L510.33,181.05 L511.01,181.11 L511.69,181.17 L512.36,181.23 L513.04,181.28 L513.71,181.33 L514.39,181.38 L515.07,181.43 L515.74,181.48 L516.42,181.52 L517.10,181.57 L517.77,181.61 L518.45,181.65 L519.13,181.68 L519.80,181.71 L520.48,181.74 L521.16,181.77 L521.83,181.79 L522.51,181.82 L523.19,181.83 L523.86,181.85 L524.54,181.86 L525.22,181.87 L525.89,181.87 L526.57,181.88 L527.24,181.88 L527.92,181.87 L528.60,181.86 L529.27,181.85 L529.95,181.84 L530.63,181.82 L531.30,181.80 L531.98,181.78" fill="none" stroke="#8410dc" stroke-width="1.35" opacity="0.9"/>
<path d="M315.50,178.88 L316.18,178.85 L316.85,178.83 L317.53,178.80 L318.21,178.78 L318.88,178.75 L319.56,178.73 L320.24,178.71 L320.91,178.69 L321.59,178.67 L322.26,178.65 L322.94,178.63 L323.62,178.61 L324.29,178.59 L324.97,178.58 L325.65,178.56 L326.32,178.55 L327.00,178.54 L327.68,178.52 L328.35,178.52 L329.03,178.51 L329.71,178.50 L330.38,178.49 L331.06,178.49 L331.74,178.49 L332.41,178.48 L333.09,178.48 L333.77,178.48 L334.44,178.48 L335.12,178.49 L335.80,178.49 L336.47,178.49 L337.15,178.50 L337.82,178.50 L338.50,178.50 L339.18,178.48 L339.85,178.44 L340.53,178.37 L341.21,178.28 L341.88,178.16 L342.56,178.03 L343.24,177.87 L343.91,177.69 L344.59,177.49 L345.27,177.25 L345.94,176.95 L346.62,176.61 L347.30,176.24 L347.97,175.83 L348.65,175.40 L349.32,174.94 L350.00,174.44 L350.68,173.88 L351.35,173.25 L352.03,172.53 L352.71,171.77 L353.38,171.00 L354.06,170.17 L354.74,169.20 L355.41,168.05 L356.09,166.67 L356.77,165.14 L357.44,163.49 L358.12,161.71 L358.80,159.78 L359.47,157.71 L360.15,155.48 L360.83,153.06 L361.50,150.47 L362.18,147.73 L362.86,144.89 L363.53,141.99 L364.21,139.04 L364.88,136.10 L365.56,133.20 L366.24,130.31 L366.91,127.38 L367.59,124.38 L368.27,121.24 L368.94,117.93 L369.62,114.40 L370.30,110.40 L370.97,105.88 L371.65,101.13 L372.33,96.45 L373.00,92.13 L373.68,88.37 L374.36,85.00 L375.03,81.74 L375.71,78.34 L376.38,74.84 L377.06,71.57 L377.74,68.84 L378.41,66.64 L379.09,64.88 L379.77,63.47 L380.44,62.37 L381.12,61.73 L381.80,61.73 L382.47,62.24 L383.15,63.13 L383.83,64.32 L384.50,65.79 L385.18,67.61 L385.86,69.69 L386.53,71.96 L387.21,74.50 L387.89,77.19 L388.56,79.88 L389.24,82.48 L389.91,85.04 L390.59,87.61 L391.27,90.20 L391.94,92.86 L392.62,95.58 L393.30,98.30 L393.97,101.02 L394.65,103.78 L395.33,106.60 L396.00,109.52 L396.68,112.56 L397.36,115.79 L398.03,119.31 L398.71,123.05 L399.39,126.89 L400.06,130.71 L400.74,134.37 L401.42,137.80 L402.09,141.13 L402.77,144.39 L403.44,147.60 L404.12,150.76 L404.80,153.89 L405.47,157.00 L406.15,160.07 L406.83,163.06 L407.50,165.93 L408.18,168.63 L408.86,171.10 L409.53,173.27 L410.21,175.17 L410.89,176.81 L411.56,178.31 L412.24,179.70 L412.92,180.95 L413.59,182.06 L414.27,183.01 L414.95,183.82 L415.62,184.52 L416.30,185.09 L416.98,185.54 L417.65,185.89 L418.33,186.14 L419.00,186.34 L419.68,186.50 L420.36,186.61 L421.03,186.67 L421.71,186.70 L422.39,186.67 L423.06,186.61 L423.74,186.52 L424.42,186.39 L425.09,186.23 L425.77,186.06 L426.45,185.87 L427.12,185.67 L427.80,185.47 L428.48,185.27 L429.15,185.07 L429.83,184.89 L430.50,184.72 L431.18,184.56 L431.86,184.42 L432.53,184.30 L433.21,184.20 L433.89,184.11 L434.56,184.04 L435.24,183.99 L435.92,183.96 L436.59,183.93 L437.27,183.92 L437.95,183.92 L438.62,183.93 L439.30,183.95 L439.98,183.98 L440.65,184.01 L441.33,184.04 L442.01,184.08 L442.68,184.11 L443.36,184.16 L444.03,184.20 L444.71,184.24 L445.39,184.28 L446.06,184.33 L446.74,184.37 L447.42,184.41 L448.09,184.45 L448.77,184.50 L449.45,184.54 L450.12,184.57 L450.80,184.61 L451.48,184.65 L452.15,184.68 L452.83,184.71 L453.51,184.75 L454.18,184.78 L454.86,184.80 L455.54,184.83 L456.21,184.86 L456.89,184.88 L457.56,184.90 L458.24,184.92 L458.92,184.94 L459.59,184.95 L460.27,184.97 L460.95,184.98 L461.62,184.99 L462.30,184.99 L462.98,185.00 L463.65,185.00 L464.33,185.01 L465.01,185.00 L465.68,185.00 L466.36,185.00 L467.04,184.99 L467.71,184.98 L468.39,184.97 L469.07,184.96 L469.74,184.94 L470.42,184.93 L471.10,184.91 L471.77,184.89 L472.45,184.87 L473.12,184.84 L473.80,184.82 L474.48,184.79 L475.15,184.76 L475.83,184.73 L476.51,184.70 L477.18,184.67 L477.86,184.63 L478.54,184.60 L479.21,184.56 L479.89,184.52 L480.57,184.48 L481.24,184.44 L481.92,184.40 L482.60,184.36 L483.27,184.32 L483.95,184.27 L484.62,184.23 L485.30,184.19 L485.98,184.14 L486.65,184.10 L487.33,184.05 L488.01,184.00 L488.68,183.96 L489.36,183.91 L490.04,183.87 L490.71,183.82 L491.39,183.78 L492.07,183.73 L492.74,183.69 L493.42,183.64 L494.10,183.60 L494.77,183.56 L495.45,183.52 L496.13,183.47 L496.80,183.43 L497.48,183.39 L498.15,183.36 L498.83,183.32 L499.51,183.28 L500.18,183.25 L500.86,183.22 L501.54,183.18 L502.21,183.15 L502.89,183.13 L503.57,183.10 L504.24,183.07 L504.92,183.05 L505.60,183.03 L506.27,183.01 L506.95,182.99 L507.63,182.97 L508.30,182.96 L508.98,182.94 L509.66,182.93 L510.33,182.92 L511.01,182.92 L511.69,182.91 L512.36,182.91 L513.04,182.91 L513.71,182.91 L514.39,182.91 L515.07,182.91 L515.74,182.92 L516.42,182.93 L517.10,182.94 L517.77,182.95 L518.45,182.97 L519.13,182.98 L519.80,183.00 L520.48,183.02 L521.16,183.04 L521.83,183.06 L522.51,183.09 L523.19,183.12 L523.86,183.14 L524.54,183.17 L525.22,183.20 L525.89,183.24 L526.57,183.27 L527.24,183.31 L527.92,183.34 L528.60,183.38 L529.27,183.42 L529.95,183.46 L530.63,183.50 L531.30,183.54 L531.98,183.58" fill="none" stroke="#8410dc" stroke-width="1.35" opacity="0.9"/>
<path d="M315.50,181.06 L316.18,181.03 L316.85,181.00 L317.53,180.96 L318.21,180.93 L318.88,180.89 L319.56,180.86 L320.24,180.82 L320.91,180.78 L321.59,180.74 L322.26,180.71 L322.94,180.67 L323.62,180.64 L324.29,180.60 L324.97,180.57 L325.65,180.54 L326.32,180.51 L327.00,180.48 L327.68,180.45 L328.35,180.43 L329.03,180.40 L329.71,180.38 L330.38,180.37 L331.06,180.35 L331.74,180.34 L332.41,180.33 L333.09,180.32 L333.77,180.31 L334.44,180.31 L335.12,180.31 L335.80,180.31 L336.47,180.30 L337.15,180.27 L337.82,180.22 L338.50,180.15 L339.18,180.06 L339.85,179.95 L340.53,179.82 L341.21,179.68 L341.88,179.52 L342.56,179.33 L343.24,179.09 L343.91,178.81 L344.59,178.50 L345.27,178.15 L345.94,177.78 L346.62,177.39 L347.30,176.97 L347.97,176.50 L348.65,175.97 L349.32,175.36 L350.00,174.69 L350.68,174.02 L351.35,173.30 L352.03,172.49 L352.71,171.54 L353.38,170.38 L354.06,169.06 L354.74,167.63 L355.41,166.09 L356.09,164.42 L356.77,162.62 L357.44,160.68 L358.12,158.59 L358.80,156.34 L359.47,153.94 L360.15,151.44 L360.83,148.87 L361.50,146.25 L362.18,143.62 L362.86,141.01 L363.53,138.43 L364.21,135.84 L364.88,133.19 L365.56,130.44 L366.24,127.55 L366.91,124.49 L367.59,121.13 L368.27,117.25 L368.94,113.06 L369.62,108.83 L370.30,104.81 L370.97,101.26 L371.65,98.14 L372.33,95.22 L373.00,92.26 L373.68,89.14 L374.36,86.10 L375.03,83.45 L375.71,81.32 L376.38,79.59 L377.06,78.22 L377.74,77.12 L378.41,76.36 L379.09,76.13 L379.77,76.42 L380.44,77.10 L381.12,78.06 L381.80,79.26 L382.47,80.77 L383.15,82.55 L383.83,84.51 L384.50,86.68 L385.18,89.06 L385.86,91.49 L386.53,93.85 L387.21,96.16 L387.89,98.47 L388.56,100.80 L389.24,103.18 L389.91,105.63 L390.59,108.12 L391.27,110.62 L391.94,113.15 L392.62,115.75 L393.30,118.44 L393.97,121.26 L394.65,124.23 L395.33,127.48 L396.00,131.00 L396.68,134.69 L397.36,138.45 L398.03,142.15 L398.71,145.71 L399.39,149.18 L400.06,152.64 L400.74,156.09 L401.42,159.55 L402.09,163.02 L402.77,166.51 L403.44,170.02 L404.12,173.51 L404.80,176.91 L405.47,180.20 L406.15,183.30 L406.83,186.14 L407.50,188.70 L408.18,190.98 L408.86,193.04 L409.53,194.93 L410.21,196.63 L410.89,198.11 L411.56,199.36 L412.24,200.37 L412.92,201.16 L413.59,201.72 L414.27,202.07 L414.95,202.21 L415.62,202.15 L416.30,201.93 L416.98,201.59 L417.65,201.12 L418.33,200.55 L419.00,199.88 L419.68,199.13 L420.36,198.32 L421.03,197.45 L421.71,196.54 L422.39,195.62 L423.06,194.68 L423.74,193.75 L424.42,192.84 L425.09,191.95 L425.77,191.09 L426.45,190.28 L427.12,189.52 L427.80,188.81 L428.48,188.15 L429.15,187.54 L429.83,187.00 L430.50,186.50 L431.18,186.06 L431.86,185.66 L432.53,185.32 L433.21,185.01 L433.89,184.75 L434.56,184.52 L435.24,184.32 L435.92,184.15 L436.59,184.01 L437.27,183.89 L437.95,183.79 L438.62,183.71 L439.30,183.65 L439.98,183.60 L440.65,183.56 L441.33,183.53 L442.01,183.51 L442.68,183.50 L443.36,183.49 L444.03,183.50 L444.71,183.51 L445.39,183.52 L446.06,183.55 L446.74,183.57 L447.42,183.60 L448.09,183.64 L448.77,183.68 L449.45,183.73 L450.12,183.77 L450.80,183.83 L451.48,183.88 L452.15,183.94 L452.83,184.01 L453.51,184.07 L454.18,184.14 L454.86,184.21 L455.54,184.29 L456.21,184.37 L456.89,184.45 L457.56,184.53 L458.24,184.61 L458.92,184.70 L459.59,184.78 L460.27,184.87 L460.95,184.96 L461.62,185.05 L462.30,185.14 L462.98,185.23 L463.65,185.32 L464.33,185.41 L465.01,185.50 L465.68,185.59 L466.36,185.68 L467.04,185.77 L467.71,185.86 L468.39,185.95 L469.07,186.03 L469.74,186.11 L470.42,186.19 L471.10,186.27 L471.77,186.35 L472.45,186.43 L473.12,186.50 L473.80,186.57 L474.48,186.63 L475.15,186.70 L475.83,186.76 L476.51,186.81 L477.18,186.87 L477.86,186.92 L478.54,186.96 L479.21,187.01 L479.89,187.04 L480.57,187.08 L481.24,187.11 L481.92,187.13 L482.60,187.15 L483.27,187.17 L483.95,187.18 L484.62,187.19 L485.30,187.20 L485.98,187.20 L486.65,187.19 L487.33,187.18 L488.01,187.17 L488.68,187.15 L489.36,187.13 L490.04,187.10 L490.71,187.07 L491.39,187.04 L492.07,187.00 L492.74,186.96 L493.42,186.91 L494.10,186.86 L494.77,186.81 L495.45,186.75 L496.13,186.69 L496.80,186.63 L497.48,186.56 L498.15,186.49 L498.83,186.42 L499.51,186.34 L500.18,186.27 L500.86,186.19 L501.54,186.11 L502.21,186.02 L502.89,185.94 L503.57,185.85 L504.24,185.76 L504.92,185.68 L505.60,185.59 L506.27,185.50 L506.95,185.41 L507.63,185.32 L508.30,185.23 L508.98,185.14 L509.66,185.05 L510.33,184.96 L511.01,184.87 L511.69,184.78 L512.36,184.70 L513.04,184.61 L513.71,184.53 L514.39,184.45 L515.07,184.37 L515.74,184.30 L516.42,184.22 L517.10,184.15 L517.77,184.08 L518.45,184.02 L519.13,183.96 L519.80,183.90 L520.48,183.84 L521.16,183.79 L521.83,183.74 L522.51,183.70 L523.19,183.66 L523.86,183.62 L524.54,183.59 L525.22,183.56 L525.89,183.53 L526.57,183.51 L527.24,183.50 L527.92,183.49 L528.60,183.48 L529.27,183.48 L529.95,183.48 L530.63,183.48 L531.30,183.49 L531.98,183.51" fill="none" stroke="#8410dc" stroke-width="1.0" opacity="0.78"/>
<path d="M315.50,179.26 L316.18,179.22 L316.85,179.18 L317.53,179.14 L318.21,179.08 L318.88,179.03 L319.56,178.96 L320.24,178.90 L320.91,178.83 L321.59,178.76 L322.26,178.69 L322.94,178.61 L323.62,178.54 L324.29,178.46 L324.97,178.38 L325.65,178.31 L326.32,178.23 L327.00,178.16 L327.68,178.09 L328.35,178.02 L329.03,177.96 L329.71,177.90 L330.38,177.84 L331.06,177.79 L331.74,177.74 L332.41,177.70 L333.09,177.67 L333.77,177.64 L334.44,177.61 L335.12,177.59 L335.80,177.58 L336.47,177.58 L337.15,177.58 L337.82,177.58 L338.50,177.59 L339.18,177.61 L339.85,177.63 L340.53,177.64 L341.21,177.63 L341.88,177.61 L342.56,177.56 L343.24,177.51 L343.91,177.43 L344.59,177.34 L345.27,177.24 L345.94,177.11 L346.62,176.95 L347.30,176.74 L347.97,176.49 L348.65,176.21 L349.32,175.90 L350.00,175.56 L350.68,175.20 L351.35,174.79 L352.03,174.34 L352.71,173.81 L353.38,173.20 L354.06,172.56 L354.74,171.91 L355.41,171.19 L356.09,170.36 L356.77,169.37 L357.44,168.18 L358.12,166.87 L358.80,165.46 L359.47,163.93 L360.15,162.28 L360.83,160.51 L361.50,158.61 L362.18,156.55 L362.86,154.34 L363.53,152.01 L364.21,149.59 L364.88,147.12 L365.56,144.62 L366.24,142.12 L366.91,139.65 L367.59,137.20 L368.27,134.71 L368.94,132.16 L369.62,129.50 L370.30,126.69 L370.97,123.69 L371.65,120.29 L372.33,116.46 L373.00,112.43 L373.68,108.46 L374.36,104.79 L375.03,101.60 L375.71,98.74 L376.38,95.97 L377.06,93.09 L377.74,90.12 L378.41,87.35 L379.09,85.03 L379.77,83.16 L380.44,81.67 L381.12,80.47 L381.80,79.54 L382.47,79.00 L383.15,78.99 L383.83,79.43 L384.50,80.19 L385.18,81.19 L385.86,82.44 L386.53,83.99 L387.21,85.76 L387.89,87.68 L388.56,89.83 L389.24,92.12 L389.91,94.40 L390.59,96.60 L391.27,98.78 L391.94,100.96 L392.62,103.16 L393.30,105.41 L393.97,107.72 L394.65,110.02 L395.33,112.34 L396.00,114.67 L396.68,117.07 L397.36,119.54 L398.03,122.13 L398.71,124.86 L399.39,127.85 L400.06,131.03 L400.74,134.30 L401.42,137.54 L402.09,140.65 L402.77,143.57 L403.44,146.40 L404.12,149.19 L404.80,151.92 L405.47,154.63 L406.15,157.30 L406.83,159.97 L407.50,162.60 L408.18,165.17 L408.86,167.63 L409.53,169.94 L410.21,172.06 L410.89,173.92 L411.56,175.55 L412.24,176.96 L412.92,178.24 L413.59,179.41 L414.27,180.45 L414.95,181.37 L415.62,182.14 L416.30,182.78 L416.98,183.30 L417.65,183.71 L418.33,184.01 L419.00,184.21 L419.68,184.33 L420.36,184.39 L421.03,184.41 L421.71,184.40 L422.39,184.36 L423.06,184.29 L423.74,184.19 L424.42,184.07 L425.09,183.93 L425.77,183.79 L426.45,183.64 L427.12,183.49 L427.80,183.34 L428.48,183.20 L429.15,183.07 L429.83,182.94 L430.50,182.83 L431.18,182.73 L431.86,182.64 L432.53,182.57 L433.21,182.50 L433.89,182.45 L434.56,182.40 L435.24,182.36 L435.92,182.33 L436.59,182.30 L437.27,182.28 L437.95,182.25 L438.62,182.23 L439.30,182.20 L439.98,182.17 L440.65,182.15 L441.33,182.11 L442.01,182.08 L442.68,182.04 L443.36,182.00 L444.03,181.96 L444.71,181.91 L445.39,181.86 L446.06,181.80 L446.74,181.75 L447.42,181.69 L448.09,181.62 L448.77,181.56 L449.45,181.49 L450.12,181.42 L450.80,181.35 L451.48,181.28 L452.15,181.20 L452.83,181.13 L453.51,181.06 L454.18,180.98 L454.86,180.91 L455.54,180.84 L456.21,180.76 L456.89,180.69 L457.56,180.62 L458.24,180.56 L458.92,180.49 L459.59,180.43 L460.27,180.37 L460.95,180.31 L461.62,180.26 L462.30,180.21 L462.98,180.16 L463.65,180.12 L464.33,180.08 L465.01,180.04 L465.68,180.01 L466.36,179.99 L467.04,179.96 L467.71,179.95 L468.39,179.93 L469.07,179.93 L469.74,179.92 L470.42,179.92 L471.10,179.93 L471.77,179.94 L472.45,179.96 L473.12,179.98 L473.80,180.00 L474.48,180.03 L475.15,180.07 L475.83,180.10 L476.51,180.15 L477.18,180.19 L477.86,180.24 L478.54,180.30 L479.21,180.35 L479.89,180.41 L480.57,180.47 L481.24,180.54 L481.92,180.61 L482.60,180.68 L483.27,180.75 L483.95,180.82 L484.62,180.90 L485.30,180.97 L485.98,181.05 L486.65,181.12 L487.33,181.20 L488.01,181.28 L488.68,181.35 L489.36,181.43 L490.04,181.50 L490.71,181.57 L491.39,181.64 L492.07,181.71 L492.74,181.77 L493.42,181.84 L494.10,181.90 L494.77,181.96 L495.45,182.01 L496.13,182.06 L496.80,182.11 L497.48,182.15 L498.15,182.19 L498.83,182.22 L499.51,182.25 L500.18,182.28 L500.86,182.30 L501.54,182.32 L502.21,182.33 L502.89,182.34 L503.57,182.34 L504.24,182.34 L504.92,182.33 L505.60,182.32 L506.27,182.30 L506.95,182.28 L507.63,182.26 L508.30,182.22 L508.98,182.19 L509.66,182.15 L510.33,182.11 L511.01,182.06 L511.69,182.01 L512.36,181.96 L513.04,181.90 L513.71,181.84 L514.39,181.77 L515.07,181.71 L515.74,181.64 L516.42,181.57 L517.10,181.50 L517.77,181.42 L518.45,181.35 L519.13,181.27 L519.80,181.20 L520.48,181.12 L521.16,181.05 L521.83,180.97 L522.51,180.89 L523.19,180.82 L523.86,180.75 L524.54,180.67 L525.22,180.60 L525.89,180.54 L526.57,180.47 L527.24,180.41 L527.92,180.35 L528.60,180.29 L529.27,180.24 L529.95,180.19 L530.63,180.14 L531.30,180.10 L531.98,180.06" fill="none" stroke="#8410dc" stroke-width="1.0" opacity="0.78"/>
<path d="M315.50,180.15 L316.18,180.22 L316.85,180.29 L317.53,180.35 L318.21,180.40 L318.88,180.44 L319.56,180.48 L320.24,180.50 L320.91,180.52 L321.59,180.53 L322.26,180.54 L322.94,180.53 L323.62,180.52 L324.29,180.50 L324.97,180.46 L325.65,180.43 L326.32,180.38 L327.00,180.33 L327.68,180.26 L328.35,180.20 L329.03,180.12 L329.71,180.04 L330.38,179.96 L331.06,179.87 L331.74,179.78 L332.41,179.68 L333.09,179.58 L333.77,179.48 L334.44,179.38 L335.12,179.28 L335.80,179.18 L336.47,179.08 L337.15,178.98 L337.82,178.88 L338.50,178.78 L339.18,178.66 L339.85,178.52 L340.53,178.37 L341.21,178.21 L341.88,178.04 L342.56,177.86 L343.24,177.67 L343.91,177.47 L344.59,177.25 L345.27,177.00 L345.94,176.73 L346.62,176.43 L347.30,176.12 L347.97,175.79 L348.65,175.45 L349.32,175.09 L350.00,174.69 L350.68,174.24 L351.35,173.72 L352.03,173.15 L352.71,172.57 L353.38,171.95 L354.06,171.24 L354.74,170.39 L355.41,169.35 L356.09,168.15 L356.77,166.84 L357.44,165.42 L358.12,163.88 L358.80,162.21 L359.47,160.40 L360.15,158.45 L360.83,156.34 L361.50,154.09 L362.18,151.74 L362.86,149.32 L363.53,146.86 L364.21,144.38 L364.88,141.93 L365.56,139.50 L366.24,137.06 L366.91,134.56 L367.59,131.97 L368.27,129.25 L368.94,126.36 L369.62,123.20 L370.30,119.54 L370.97,115.60 L371.65,111.61 L372.33,107.83 L373.00,104.47 L373.68,101.53 L374.36,98.78 L375.03,95.99 L375.71,93.06 L376.38,90.20 L377.06,87.70 L377.74,85.69 L378.41,84.06 L379.09,82.77 L379.77,81.73 L380.44,81.02 L381.12,80.80 L381.80,81.08 L382.47,81.71 L383.15,82.62 L383.83,83.74 L384.50,85.16 L385.18,86.84 L385.86,88.68 L386.53,90.72 L387.21,92.95 L387.89,95.23 L388.56,97.44 L389.24,99.60 L389.91,101.76 L390.59,103.93 L391.27,106.14 L391.94,108.41 L392.62,110.71 L393.30,113.00 L393.97,115.31 L394.65,117.66 L395.33,120.09 L396.00,122.62 L396.68,125.27 L397.36,128.15 L398.03,131.26 L398.71,134.50 L399.39,137.77 L400.06,140.96 L400.74,143.97 L401.42,146.86 L402.09,149.70 L402.77,152.50 L403.44,155.27 L404.12,158.03 L404.80,160.77 L405.47,163.52 L406.15,166.22 L406.83,168.85 L407.50,171.37 L408.18,173.73 L408.86,175.86 L409.53,177.76 L410.21,179.43 L410.89,180.96 L411.56,182.38 L412.24,183.69 L412.92,184.88 L413.59,185.94 L414.27,186.86 L414.95,187.67 L415.62,188.37 L416.30,188.96 L416.98,189.45 L417.65,189.84 L418.33,190.17 L419.00,190.46 L419.68,190.71 L420.36,190.92 L421.03,191.08 L421.71,191.21 L422.39,191.29 L423.06,191.34 L423.74,191.35 L424.42,191.33 L425.09,191.28 L425.77,191.21 L426.45,191.10 L427.12,190.98 L427.80,190.85 L428.48,190.70 L429.15,190.54 L429.83,190.38 L430.50,190.21 L431.18,190.05 L431.86,189.89 L432.53,189.73 L433.21,189.58 L433.89,189.43 L434.56,189.30 L435.24,189.17 L435.92,189.05 L436.59,188.94 L437.27,188.84 L437.95,188.75 L438.62,188.66 L439.30,188.59 L439.98,188.51 L440.65,188.44 L441.33,188.38 L442.01,188.32 L442.68,188.26 L443.36,188.20 L444.03,188.14 L444.71,188.09 L445.39,188.03 L446.06,187.98 L446.74,187.92 L447.42,187.86 L448.09,187.80 L448.77,187.74 L449.45,187.67 L450.12,187.61 L450.80,187.54 L451.48,187.47 L452.15,187.40 L452.83,187.33 L453.51,187.26 L454.18,187.18 L454.86,187.11 L455.54,187.03 L456.21,186.96 L456.89,186.88 L457.56,186.80 L458.24,186.72 L458.92,186.64 L459.59,186.57 L460.27,186.49 L460.95,186.41 L461.62,186.33 L462.30,186.26 L462.98,186.18 L463.65,186.11 L464.33,186.04 L465.01,185.97 L465.68,185.90 L466.36,185.83 L467.04,185.77 L467.71,185.70 L468.39,185.64 L469.07,185.58 L469.74,185.53 L470.42,185.48 L471.10,185.43 L471.77,185.38 L472.45,185.33 L473.12,185.29 L473.80,185.26 L474.48,185.22 L475.15,185.19 L475.83,185.16 L476.51,185.14 L477.18,185.12 L477.86,185.10 L478.54,185.09 L479.21,185.08 L479.89,185.08 L480.57,185.08 L481.24,185.08 L481.92,185.08 L482.60,185.09 L483.27,185.11 L483.95,185.12 L484.62,185.15 L485.30,185.17 L485.98,185.20 L486.65,185.23 L487.33,185.27 L488.01,185.30 L488.68,185.35 L489.36,185.39 L490.04,185.44 L490.71,185.49 L491.39,185.54 L492.07,185.60 L492.74,185.66 L493.42,185.72 L494.10,185.79 L494.77,185.85 L495.45,185.92 L496.13,185.99 L496.80,186.06 L497.48,186.14 L498.15,186.21 L498.83,186.29 L499.51,186.36 L500.18,186.44 L500.86,186.52 L501.54,186.60 L502.21,186.68 L502.89,186.76 L503.57,186.84 L504.24,186.91 L504.92,186.99 L505.60,187.07 L506.27,187.15 L506.95,187.23 L507.63,187.30 L508.30,187.37 L508.98,187.45 L509.66,187.52 L510.33,187.59 L511.01,187.65 L511.69,187.72 L512.36,187.78 L513.04,187.84 L513.71,187.90 L514.39,187.95 L515.07,188.01 L515.74,188.06 L516.42,188.10 L517.10,188.14 L517.77,188.18 L518.45,188.22 L519.13,188.25 L519.80,188.28 L520.48,188.31 L521.16,188.33 L521.83,188.35 L522.51,188.37 L523.19,188.38 L523.86,188.38 L524.54,188.39 L525.22,188.39 L525.89,188.38 L526.57,188.37 L527.24,188.36 L527.92,188.35 L528.60,188.33 L529.27,188.31 L529.95,188.28 L530.63,188.25 L531.30,188.22 L531.98,188.18" fill="none" stroke="#8410dc" stroke-width="1.0" opacity="0.78"/>
<path d="M315.50,177.08 L316.18,177.14 L316.85,177.19 L317.53,177.24 L318.21,177.27 L318.88,177.29 L319.56,177.31 L320.24,177.31 L320.91,177.30 L321.59,177.28 L322.26,177.25 L322.94,177.21 L323.62,177.16 L324.29,177.10 L324.97,177.03 L325.65,176.96 L326.32,176.87 L327.00,176.78 L327.68,176.68 L328.35,176.58 L329.03,176.47 L329.71,176.36 L330.38,176.25 L331.06,176.14 L331.74,176.02 L332.41,175.91 L333.09,175.80 L333.77,175.69 L334.44,175.58 L335.12,175.48 L335.80,175.38 L336.47,175.28 L337.15,175.16 L337.82,175.03 L338.50,174.89 L339.18,174.74 L339.85,174.59 L340.53,174.43 L341.21,174.27 L341.88,174.10 L342.56,173.90 L343.24,173.68 L343.91,173.44 L344.59,173.18 L345.27,172.90 L345.94,172.62 L346.62,172.31 L347.30,171.98 L347.97,171.60 L348.65,171.17 L349.32,170.67 L350.00,170.13 L350.68,169.58 L351.35,168.97 L352.03,168.25 L352.71,167.38 L353.38,166.32 L354.06,165.14 L354.74,163.85 L355.41,162.46 L356.09,160.95 L356.77,159.31 L357.44,157.55 L358.12,155.64 L358.80,153.58 L359.47,151.42 L360.15,149.16 L360.83,146.86 L361.50,144.52 L362.18,142.19 L362.86,139.88 L363.53,137.59 L364.21,135.27 L364.88,132.88 L365.56,130.39 L366.24,127.76 L366.91,124.97 L367.59,121.79 L368.27,118.20 L368.94,114.44 L369.62,110.73 L370.30,107.30 L370.97,104.32 L371.65,101.64 L372.33,99.06 L373.00,96.36 L373.68,93.59 L374.36,91.00 L375.03,88.83 L375.71,87.09 L376.38,85.69 L377.06,84.57 L377.74,83.70 L378.41,83.20 L379.09,83.19 L379.77,83.60 L380.44,84.31 L381.12,85.25 L381.80,86.41 L382.47,87.86 L383.15,89.52 L383.83,91.32 L384.50,93.33 L385.18,95.47 L385.86,97.61 L386.53,99.67 L387.21,101.71 L387.89,103.75 L388.56,105.82 L389.24,107.94 L389.91,110.12 L390.59,112.30 L391.27,114.50 L391.94,116.72 L392.62,119.01 L393.30,121.39 L393.97,123.88 L394.65,126.53 L395.33,129.44 L396.00,132.56 L396.68,135.77 L397.36,139.00 L398.03,142.13 L398.71,145.13 L399.39,148.09 L400.06,151.04 L400.74,154.00 L401.42,156.98 L402.09,159.98 L402.77,163.02 L403.44,166.09 L404.12,169.15 L404.80,172.16 L405.47,175.08 L406.15,177.86 L406.83,180.43 L407.50,182.81 L408.18,185.00 L408.86,187.08 L409.53,189.05 L410.21,190.89 L410.89,192.58 L411.56,194.09 L412.24,195.43 L412.92,196.58 L413.59,197.55 L414.27,198.33 L414.95,198.92 L415.62,199.31 L416.30,199.54 L416.98,199.62 L417.65,199.55 L418.33,199.31 L419.00,198.94 L419.68,198.42 L420.36,197.77 L421.03,197.01 L421.71,196.15 L422.39,195.21 L423.06,194.20 L423.74,193.14 L424.42,192.05 L425.09,190.95 L425.77,189.84 L426.45,188.76 L427.12,187.70 L427.80,186.68 L428.48,185.71 L429.15,184.80 L429.83,183.95 L430.50,183.17 L431.18,182.45 L431.86,181.81 L432.53,181.23 L433.21,180.72 L433.89,180.27 L434.56,179.88 L435.24,179.54 L435.92,179.26 L436.59,179.02 L437.27,178.83 L437.95,178.67 L438.62,178.54 L439.30,178.45 L439.98,178.38 L440.65,178.33 L441.33,178.30 L442.01,178.29 L442.68,178.30 L443.36,178.31 L444.03,178.34 L444.71,178.37 L445.39,178.41 L446.06,178.46 L446.74,178.51 L447.42,178.57 L448.09,178.64 L448.77,178.70 L449.45,178.77 L450.12,178.85 L450.80,178.92 L451.48,179.00 L452.15,179.08 L452.83,179.16 L453.51,179.25 L454.18,179.33 L454.86,179.42 L455.54,179.51 L456.21,179.60 L456.89,179.69 L457.56,179.78 L458.24,179.87 L458.92,179.96 L459.59,180.06 L460.27,180.15 L460.95,180.24 L461.62,180.34 L462.30,180.43 L462.98,180.52 L463.65,180.61 L464.33,180.70 L465.01,180.79 L465.68,180.88 L466.36,180.97 L467.04,181.06 L467.71,181.14 L468.39,181.22 L469.07,181.31 L469.74,181.39 L470.42,181.47 L471.10,181.54 L471.77,181.62 L472.45,181.69 L473.12,181.76 L473.80,181.83 L474.48,181.89 L475.15,181.95 L475.83,182.01 L476.51,182.07 L477.18,182.12 L477.86,182.17 L478.54,182.22 L479.21,182.26 L479.89,182.31 L480.57,182.34 L481.24,182.38 L481.92,182.41 L482.60,182.44 L483.27,182.46 L483.95,182.48 L484.62,182.50 L485.30,182.51 L485.98,182.52 L486.65,182.53 L487.33,182.53 L488.01,182.53 L488.68,182.52 L489.36,182.52 L490.04,182.50 L490.71,182.49 L491.39,182.47 L492.07,182.45 L492.74,182.42 L493.42,182.39 L494.10,182.36 L494.77,182.32 L495.45,182.28 L496.13,182.24 L496.80,182.19 L497.48,182.15 L498.15,182.09 L498.83,182.04 L499.51,181.98 L500.18,181.92 L500.86,181.86 L501.54,181.79 L502.21,181.72 L502.89,181.65 L503.57,181.58 L504.24,181.50 L504.92,181.42 L505.60,181.35 L506.27,181.26 L506.95,181.18 L507.63,181.10 L508.30,181.01 L508.98,180.92 L509.66,180.84 L510.33,180.75 L511.01,180.66 L511.69,180.57 L512.36,180.48 L513.04,180.38 L513.71,180.29 L514.39,180.20 L515.07,180.11 L515.74,180.02 L516.42,179.92 L517.10,179.83 L517.77,179.74 L518.45,179.65 L519.13,179.56 L519.80,179.47 L520.48,179.39 L521.16,179.30 L521.83,179.21 L522.51,179.13 L523.19,179.05 L523.86,178.97 L524.54,178.89 L525.22,178.82 L525.89,178.74 L526.57,178.67 L527.24,178.60 L527.92,178.53 L528.60,178.47 L529.27,178.41 L529.95,178.35 L530.63,178.29 L531.30,178.24 L531.98,178.19" fill="none" stroke="#8410dc" stroke-width="1.0" opacity="0.78"/>
<path d="M315.50,180.74 L316.18,180.80 L316.85,180.85 L317.53,180.90 L318.21,180.94 L318.88,180.99 L319.56,181.03 L320.24,181.06 L320.91,181.10 L321.59,181.13 L322.26,181.15 L322.94,181.18 L323.62,181.19 L324.29,181.21 L324.97,181.22 L325.65,181.22 L326.32,181.22 L327.00,181.22 L327.68,181.21 L328.35,181.20 L329.03,181.19 L329.71,181.17 L330.38,181.14 L331.06,181.11 L331.74,181.08 L332.41,181.04 L333.09,181.00 L333.77,180.96 L334.44,180.91 L335.12,180.86 L335.80,180.80 L336.47,180.75 L337.15,180.69 L337.82,180.62 L338.50,180.56 L339.18,180.49 L339.85,180.42 L340.53,180.35 L341.21,180.26 L341.88,180.15 L342.56,180.02 L343.24,179.87 L343.91,179.71 L344.59,179.53 L345.27,179.33 L345.94,179.12 L346.62,178.90 L347.30,178.64 L347.97,178.36 L348.65,178.04 L349.32,177.70 L350.00,177.34 L350.68,176.97 L351.35,176.59 L352.03,176.18 L352.71,175.73 L353.38,175.23 L354.06,174.67 L354.74,174.08 L355.41,173.49 L356.09,172.84 L356.77,172.09 L357.44,171.19 L358.12,170.11 L358.80,168.91 L359.47,167.60 L360.15,166.19 L360.83,164.66 L361.50,163.01 L362.18,161.23 L362.86,159.29 L363.53,157.21 L364.21,155.01 L364.88,152.73 L365.56,150.39 L366.24,148.02 L366.91,145.65 L367.59,143.31 L368.27,140.98 L368.94,138.61 L369.62,136.18 L370.30,133.65 L370.97,130.98 L371.65,128.13 L372.33,124.89 L373.00,121.23 L373.68,117.40 L374.36,113.61 L375.03,110.12 L375.71,107.08 L376.38,104.35 L377.06,101.71 L377.74,98.96 L378.41,96.14 L379.09,93.49 L379.77,91.28 L380.44,89.50 L381.12,88.08 L381.80,86.94 L382.47,86.05 L383.15,85.53 L383.83,85.53 L384.50,85.94 L385.18,86.67 L385.86,87.63 L386.53,88.81 L387.21,90.29 L387.89,91.98 L388.56,93.81 L389.24,95.86 L389.91,98.04 L390.59,100.22 L391.27,102.32 L391.94,104.39 L392.62,106.47 L393.30,108.57 L393.97,110.71 L394.65,112.91 L395.33,115.12 L396.00,117.32 L396.68,119.55 L397.36,121.84 L398.03,124.20 L398.71,126.67 L399.39,129.29 L400.06,132.15 L400.74,135.19 L401.42,138.31 L402.09,141.42 L402.77,144.41 L403.44,147.22 L404.12,149.96 L404.80,152.65 L405.47,155.31 L406.15,157.94 L406.83,160.56 L407.50,163.18 L408.18,165.78 L408.86,168.34 L409.53,170.80 L410.21,173.15 L410.89,175.32 L411.56,177.26 L412.24,178.98 L412.92,180.51 L413.59,181.92 L414.27,183.23 L414.95,184.42 L415.62,185.49 L416.30,186.41 L416.98,187.20 L417.65,187.87 L418.33,188.40 L419.00,188.82 L419.68,189.12 L420.36,189.31 L421.03,189.43 L421.71,189.49 L422.39,189.49 L423.06,189.43 L423.74,189.33 L424.42,189.18 L425.09,189.00 L425.77,188.78 L426.45,188.55 L427.12,188.30 L427.80,188.05 L428.48,187.81 L429.15,187.56 L429.83,187.34 L430.50,187.13 L431.18,186.94 L431.86,186.77 L432.53,186.62 L433.21,186.50 L433.89,186.40 L434.56,186.32 L435.24,186.26 L435.92,186.21 L436.59,186.18 L437.27,186.16 L437.95,186.14 L438.62,186.14 L439.30,186.13 L439.98,186.13 L440.65,186.13 L441.33,186.13 L442.01,186.12 L442.68,186.11 L443.36,186.10 L444.03,186.08 L444.71,186.06 L445.39,186.02 L446.06,185.99 L446.74,185.94 L447.42,185.90 L448.09,185.84 L448.77,185.78 L449.45,185.71 L450.12,185.64 L450.80,185.57 L451.48,185.49 L452.15,185.40 L452.83,185.32 L453.51,185.23 L454.18,185.13 L454.86,185.04 L455.54,184.94 L456.21,184.85 L456.89,184.75 L457.56,184.65 L458.24,184.56 L458.92,184.46 L459.59,184.37 L460.27,184.28 L460.95,184.20 L461.62,184.11 L462.30,184.03 L462.98,183.96 L463.65,183.89 L464.33,183.82 L465.01,183.76 L465.68,183.71 L466.36,183.66 L467.04,183.62 L467.71,183.58 L468.39,183.55 L469.07,183.53 L469.74,183.52 L470.42,183.51 L471.10,183.51 L471.77,183.52 L472.45,183.53 L473.12,183.55 L473.80,183.58 L474.48,183.62 L475.15,183.66 L475.83,183.71 L476.51,183.76 L477.18,183.82 L477.86,183.89 L478.54,183.96 L479.21,184.03 L479.89,184.11 L480.57,184.20 L481.24,184.29 L481.92,184.38 L482.60,184.47 L483.27,184.57 L483.95,184.66 L484.62,184.76 L485.30,184.86 L485.98,184.96 L486.65,185.06 L487.33,185.15 L488.01,185.25 L488.68,185.34 L489.36,185.43 L490.04,185.52 L490.71,185.60 L491.39,185.68 L492.07,185.76 L492.74,185.83 L493.42,185.90 L494.10,185.96 L494.77,186.01 L495.45,186.06 L496.13,186.10 L496.80,186.13 L497.48,186.16 L498.15,186.18 L498.83,186.20 L499.51,186.20 L500.18,186.20 L500.86,186.20 L501.54,186.18 L502.21,186.16 L502.89,186.13 L503.57,186.09 L504.24,186.05 L504.92,186.00 L505.60,185.95 L506.27,185.89 L506.95,185.82 L507.63,185.75 L508.30,185.67 L508.98,185.59 L509.66,185.51 L510.33,185.42 L511.01,185.33 L511.69,185.23 L512.36,185.14 L513.04,185.04 L513.71,184.94 L514.39,184.85 L515.07,184.75 L515.74,184.65 L516.42,184.55 L517.10,184.46 L517.77,184.36 L518.45,184.27 L519.13,184.19 L519.80,184.10 L520.48,184.02 L521.16,183.95 L521.83,183.88 L522.51,183.81 L523.19,183.75 L523.86,183.70 L524.54,183.65 L525.22,183.61 L525.89,183.58 L526.57,183.55 L527.24,183.53 L527.92,183.52 L528.60,183.51 L529.27,183.51 L529.95,183.52 L530.63,183.54 L531.30,183.56 L531.98,183.59" fill="none" stroke="#8410dc" stroke-width="1.0" opacity="0.78"/>
<path d="M315.50,181.78 L316.18,181.82 L316.85,181.87 L317.53,181.92 L318.21,181.96 L318.88,182.01 L319.56,182.05 L320.24,182.09 L320.91,182.13 L321.59,182.17 L322.26,182.21 L322.94,182.24 L323.62,182.27 L324.29,182.30 L324.97,182.33 L325.65,182.35 L326.32,182.37 L327.00,182.39 L327.68,182.40 L328.35,182.42 L329.03,182.42 L329.71,182.43 L330.38,182.43 L331.06,182.42 L331.74,182.42 L332.41,182.41 L333.09,182.39 L333.77,182.37 L334.44,182.35 L335.12,182.33 L335.80,182.30 L336.47,182.27 L337.15,182.23 L337.82,182.19 L338.50,182.14 L339.18,182.08 L339.85,181.99 L340.53,181.88 L341.21,181.75 L341.88,181.59 L342.56,181.42 L343.24,181.23 L343.91,181.03 L344.59,180.81 L345.27,180.55 L345.94,180.25 L346.62,179.92 L347.30,179.57 L347.97,179.20 L348.65,178.81 L349.32,178.40 L350.00,177.97 L350.68,177.50 L351.35,176.98 L352.03,176.39 L352.71,175.78 L353.38,175.17 L354.06,174.50 L354.74,173.74 L355.41,172.83 L356.09,171.74 L356.77,170.54 L357.44,169.24 L358.12,167.84 L358.80,166.32 L359.47,164.68 L360.15,162.92 L360.83,161.01 L361.50,158.95 L362.18,156.79 L362.86,154.53 L363.53,152.23 L364.21,149.89 L364.88,147.56 L365.56,145.25 L366.24,142.95 L366.91,140.62 L367.59,138.23 L368.27,135.74 L368.94,133.10 L369.62,130.29 L370.30,127.10 L370.97,123.50 L371.65,119.72 L372.33,116.00 L373.00,112.55 L373.68,109.56 L374.36,106.87 L375.03,104.27 L375.71,101.57 L376.38,98.78 L377.06,96.17 L377.74,94.00 L378.41,92.25 L379.09,90.84 L379.77,89.72 L380.44,88.84 L381.12,88.33 L381.80,88.33 L382.47,88.74 L383.15,89.45 L383.83,90.40 L384.50,91.57 L385.18,93.02 L385.86,94.68 L386.53,96.49 L387.21,98.51 L387.89,100.65 L388.56,102.80 L389.24,104.87 L389.91,106.91 L390.59,108.96 L391.27,111.02 L391.94,113.13 L392.62,115.30 L393.30,117.47 L393.97,119.64 L394.65,121.83 L395.33,124.08 L396.00,126.40 L396.68,128.82 L397.36,131.38 L398.03,134.17 L398.71,137.15 L399.39,140.19 L400.06,143.21 L400.74,146.11 L401.42,148.81 L402.09,151.44 L402.77,154.00 L403.44,156.52 L404.12,158.99 L404.80,161.44 L405.47,163.86 L406.15,166.25 L406.83,168.57 L407.50,170.79 L408.18,172.88 L408.86,174.78 L409.53,176.46 L410.21,177.93 L410.89,179.21 L411.56,180.40 L412.24,181.51 L412.92,182.54 L413.59,183.48 L414.27,184.31 L414.95,185.06 L415.62,185.73 L416.30,186.31 L416.98,186.82 L417.65,187.24 L418.33,187.59 L419.00,187.88 L419.68,188.12 L420.36,188.30 L421.03,188.42 L421.71,188.46 L422.39,188.43 L423.06,188.32 L423.74,188.14 L424.42,187.89 L425.09,187.58 L425.77,187.21 L426.45,186.79 L427.12,186.33 L427.80,185.85 L428.48,185.35 L429.15,184.84 L429.83,184.34 L430.50,183.84 L431.18,183.37 L431.86,182.92 L432.53,182.49 L433.21,182.10 L433.89,181.75 L434.56,181.43 L435.24,181.14 L435.92,180.90 L436.59,180.68 L437.27,180.50 L437.95,180.34 L438.62,180.22 L439.30,180.11 L439.98,180.03 L440.65,179.96 L441.33,179.92 L442.01,179.88 L442.68,179.86 L443.36,179.85 L444.03,179.85 L444.71,179.86 L445.39,179.88 L446.06,179.90 L446.74,179.93 L447.42,179.96 L448.09,180.00 L448.77,180.05 L449.45,180.10 L450.12,180.15 L450.80,180.20 L451.48,180.26 L452.15,180.33 L452.83,180.39 L453.51,180.46 L454.18,180.53 L454.86,180.61 L455.54,180.69 L456.21,180.77 L456.89,180.85 L457.56,180.94 L458.24,181.02 L458.92,181.11 L459.59,181.20 L460.27,181.29 L460.95,181.39 L461.62,181.48 L462.30,181.58 L462.98,181.67 L463.65,181.77 L464.33,181.87 L465.01,181.96 L465.68,182.06 L466.36,182.16 L467.04,182.26 L467.71,182.35 L468.39,182.45 L469.07,182.55 L469.74,182.64 L470.42,182.73 L471.10,182.83 L471.77,182.92 L472.45,183.01 L473.12,183.09 L473.80,183.18 L474.48,183.26 L475.15,183.34 L475.83,183.42 L476.51,183.50 L477.18,183.57 L477.86,183.64 L478.54,183.71 L479.21,183.78 L479.89,183.84 L480.57,183.90 L481.24,183.95 L481.92,184.01 L482.60,184.05 L483.27,184.10 L483.95,184.14 L484.62,184.18 L485.30,184.21 L485.98,184.24 L486.65,184.27 L487.33,184.29 L488.01,184.31 L488.68,184.32 L489.36,184.33 L490.04,184.33 L490.71,184.33 L491.39,184.33 L492.07,184.32 L492.74,184.31 L493.42,184.30 L494.10,184.28 L494.77,184.25 L495.45,184.23 L496.13,184.19 L496.80,184.16 L497.48,184.12 L498.15,184.08 L498.83,184.03 L499.51,183.98 L500.18,183.93 L500.86,183.87 L501.54,183.81 L502.21,183.75 L502.89,183.68 L503.57,183.61 L504.24,183.54 L504.92,183.46 L505.60,183.39 L506.27,183.31 L506.95,183.22 L507.63,183.14 L508.30,183.05 L508.98,182.96 L509.66,182.87 L510.33,182.78 L511.01,182.69 L511.69,182.60 L512.36,182.50 L513.04,182.41 L513.71,182.31 L514.39,182.21 L515.07,182.12 L515.74,182.02 L516.42,181.92 L517.10,181.82 L517.77,181.73 L518.45,181.63 L519.13,181.54 L519.80,181.44 L520.48,181.35 L521.16,181.26 L521.83,181.17 L522.51,181.08 L523.19,180.99 L523.86,180.91 L524.54,180.82 L525.22,180.74 L525.89,180.66 L526.57,180.59 L527.24,180.51 L527.92,180.44 L528.60,180.37 L529.27,180.31 L529.95,180.25 L530.63,180.19 L531.30,180.13 L531.98,180.08" fill="none" stroke="#8410dc" stroke-width="1.0" opacity="0.78"/>
<path d="M315.50,180.88 L316.18,180.91 L316.85,180.93 L317.53,180.94 L318.21,180.95 L318.88,180.96 L319.56,180.95 L320.24,180.95 L320.91,180.93 L321.59,180.92 L322.26,180.89 L322.94,180.86 L323.62,180.83 L324.29,180.79 L324.97,180.75 L325.65,180.70 L326.32,180.65 L327.00,180.59 L327.68,180.53 L328.35,180.46 L329.03,180.39 L329.71,180.32 L330.38,180.25 L331.06,180.17 L331.74,180.09 L332.41,180.01 L333.09,179.93 L333.77,179.85 L334.44,179.76 L335.12,179.68 L335.80,179.60 L336.47,179.52 L337.15,179.43 L337.82,179.32 L338.50,179.19 L339.18,179.06 L339.85,178.90 L340.53,178.74 L341.21,178.56 L341.88,178.38 L342.56,178.19 L343.24,177.97 L343.91,177.73 L344.59,177.46 L345.27,177.17 L345.94,176.87 L346.62,176.55 L347.30,176.22 L347.97,175.88 L348.65,175.50 L349.32,175.08 L350.00,174.60 L350.68,174.07 L351.35,173.55 L352.03,172.99 L352.71,172.34 L353.38,171.58 L354.06,170.64 L354.74,169.56 L355.41,168.38 L356.09,167.10 L356.77,165.71 L357.44,164.21 L358.12,162.58 L358.80,160.83 L359.47,158.92 L360.15,156.90 L360.83,154.78 L361.50,152.59 L362.18,150.37 L362.86,148.13 L363.53,145.92 L364.21,143.72 L364.88,141.52 L365.56,139.26 L366.24,136.92 L366.91,134.46 L367.59,131.84 L368.27,128.98 L368.94,125.67 L369.62,122.10 L370.30,118.49 L370.97,115.07 L371.65,112.04 L372.33,109.38 L373.00,106.89 L373.68,104.36 L374.36,101.70 L375.03,99.11 L375.71,96.85 L376.38,95.03 L377.06,93.56 L377.74,92.39 L378.41,91.45 L379.09,90.81 L379.77,90.61 L380.44,90.86 L381.12,91.43 L381.80,92.25 L382.47,93.27 L383.15,94.56 L383.83,96.08 L384.50,97.75 L385.18,99.59 L385.86,101.61 L386.53,103.67 L387.21,105.68 L387.89,107.64 L388.56,109.59 L389.24,111.55 L389.91,113.55 L390.59,115.61 L391.27,117.69 L391.94,119.76 L392.62,121.85 L393.30,123.99 L393.97,126.19 L394.65,128.47 L395.33,130.88 L396.00,133.49 L396.68,136.30 L397.36,139.24 L398.03,142.20 L398.71,145.09 L399.39,147.83 L400.06,150.45 L400.74,153.04 L401.42,155.60 L402.09,158.13 L402.77,160.66 L403.44,163.19 L404.12,165.72 L404.80,168.24 L405.47,170.70 L406.15,173.07 L406.83,175.32 L407.50,177.39 L408.18,179.27 L408.86,180.97 L409.53,182.55 L410.21,184.08 L410.89,185.52 L411.56,186.89 L412.24,188.15 L412.92,189.32 L413.59,190.41 L414.27,191.40 L414.95,192.31 L415.62,193.12 L416.30,193.85 L416.98,194.51 L417.65,195.11 L418.33,195.65 L419.00,196.12 L419.68,196.51 L420.36,196.82 L421.03,197.05 L421.71,197.18 L422.39,197.23 L423.06,197.19 L423.74,197.06 L424.42,196.85 L425.09,196.57 L425.77,196.22 L426.45,195.81 L427.12,195.34 L427.80,194.83 L428.48,194.29 L429.15,193.73 L429.83,193.16 L430.50,192.59 L431.18,192.02 L431.86,191.47 L432.53,190.93 L433.21,190.43 L433.89,189.96 L434.56,189.53 L435.24,189.14 L435.92,188.79 L436.59,188.49 L437.27,188.22 L437.95,188.00 L438.62,187.81 L439.30,187.66 L439.98,187.55 L440.65,187.46 L441.33,187.41 L442.01,187.37 L442.68,187.36 L443.36,187.37 L444.03,187.39 L444.71,187.42 L445.39,187.46 L446.06,187.51 L446.74,187.56 L447.42,187.62 L448.09,187.67 L448.77,187.73 L449.45,187.78 L450.12,187.84 L450.80,187.88 L451.48,187.93 L452.15,187.97 L452.83,188.00 L453.51,188.02 L454.18,188.04 L454.86,188.06 L455.54,188.06 L456.21,188.06 L456.89,188.06 L457.56,188.04 L458.24,188.02 L458.92,187.99 L459.59,187.95 L460.27,187.91 L460.95,187.86 L461.62,187.81 L462.30,187.74 L462.98,187.67 L463.65,187.60 L464.33,187.52 L465.01,187.43 L465.68,187.34 L466.36,187.24 L467.04,187.14 L467.71,187.04 L468.39,186.93 L469.07,186.81 L469.74,186.70 L470.42,186.58 L471.10,186.45 L471.77,186.33 L472.45,186.20 L473.12,186.08 L473.80,185.95 L474.48,185.82 L475.15,185.69 L475.83,185.56 L476.51,185.43 L477.18,185.30 L477.86,185.18 L478.54,185.06 L479.21,184.93 L479.89,184.82 L480.57,184.70 L481.24,184.59 L481.92,184.48 L482.60,184.37 L483.27,184.27 L483.95,184.18 L484.62,184.09 L485.30,184.00 L485.98,183.93 L486.65,183.85 L487.33,183.79 L488.01,183.72 L488.68,183.67 L489.36,183.62 L490.04,183.58 L490.71,183.55 L491.39,183.52 L492.07,183.50 L492.74,183.49 L493.42,183.48 L494.10,183.49 L494.77,183.49 L495.45,183.51 L496.13,183.53 L496.80,183.57 L497.48,183.60 L498.15,183.65 L498.83,183.70 L499.51,183.76 L500.18,183.82 L500.86,183.89 L501.54,183.97 L502.21,184.05 L502.89,184.14 L503.57,184.23 L504.24,184.33 L504.92,184.43 L505.60,184.54 L506.27,184.65 L506.95,184.76 L507.63,184.88 L508.30,185.00 L508.98,185.13 L509.66,185.25 L510.33,185.38 L511.01,185.50 L511.69,185.63 L512.36,185.76 L513.04,185.89 L513.71,186.02 L514.39,186.15 L515.07,186.28 L515.74,186.40 L516.42,186.52 L517.10,186.65 L517.77,186.76 L518.45,186.88 L519.13,186.99 L519.80,187.10 L520.48,187.20 L521.16,187.30 L521.83,187.40 L522.51,187.49 L523.19,187.57 L523.86,187.65 L524.54,187.72 L525.22,187.79 L525.89,187.85 L526.57,187.90 L527.24,187.95 L527.92,187.99 L528.60,188.02 L529.27,188.04 L529.95,188.06 L530.63,188.07 L531.30,188.08 L531.98,188.07" fill="none" stroke="#8410dc" stroke-width="1.0" opacity="0.78"/>
<path d="M315.50,178.89 L316.18,179.01 L316.85,179.13 L317.53,179.24 L318.21,179.34 L318.88,179.43 L319.56,179.50 L320.24,179.56 L320.91,179.61 L321.59,179.65 L322.26,179.67 L322.94,179.67 L323.62,179.66 L324.29,179.64 L324.97,179.60 L325.65,179.54 L326.32,179.48 L327.00,179.40 L327.68,179.30 L328.35,179.20 L329.03,179.09 L329.71,178.97 L330.38,178.84 L331.06,178.71 L331.74,178.58 L332.41,178.44 L333.09,178.31 L333.77,178.18 L334.44,178.05 L335.12,177.92 L335.80,177.81 L336.47,177.70 L337.15,177.60 L337.82,177.51 L338.50,177.43 L339.18,177.37 L339.85,177.32 L340.53,177.27 L341.21,177.22 L341.88,177.16 L342.56,177.11 L343.24,177.05 L343.91,176.99 L344.59,176.93 L345.27,176.86 L345.94,176.79 L346.62,176.70 L347.30,176.58 L347.97,176.43 L348.65,176.26 L349.32,176.06 L350.00,175.84 L350.68,175.60 L351.35,175.32 L352.03,175.00 L352.71,174.62 L353.38,174.16 L354.06,173.65 L354.74,173.13 L355.41,172.56 L356.09,171.90 L356.77,171.12 L357.44,170.18 L358.12,169.09 L358.80,167.91 L359.47,166.64 L360.15,165.27 L360.83,163.79 L361.50,162.20 L362.18,160.49 L362.86,158.64 L363.53,156.68 L364.21,154.64 L364.88,152.53 L365.56,150.40 L366.24,148.26 L366.91,146.14 L367.59,144.04 L368.27,141.92 L368.94,139.77 L369.62,137.53 L370.30,135.19 L370.97,132.70 L371.65,129.96 L372.33,126.81 L373.00,123.41 L373.68,119.97 L374.36,116.71 L375.03,113.82 L375.71,111.29 L376.38,108.92 L377.06,106.51 L377.74,103.98 L378.41,101.51 L379.09,99.35 L379.77,97.62 L380.44,96.22 L381.12,95.11 L381.80,94.21 L382.47,93.60 L383.15,93.41 L383.83,93.65 L384.50,94.19 L385.18,94.98 L385.86,95.95 L386.53,97.17 L387.21,98.62 L387.89,100.21 L388.56,101.97 L389.24,103.89 L389.91,105.86 L390.59,107.77 L391.27,109.63 L391.94,111.50 L392.62,113.37 L393.30,115.28 L393.97,117.24 L394.65,119.22 L395.33,121.20 L396.00,123.20 L396.68,125.23 L397.36,127.33 L398.03,129.52 L398.71,131.82 L399.39,134.31 L400.06,137.00 L400.74,139.81 L401.42,142.65 L402.09,145.42 L402.77,148.03 L403.44,150.55 L404.12,153.03 L404.80,155.48 L405.47,157.92 L406.15,160.34 L406.83,162.76 L407.50,165.19 L408.18,167.60 L408.86,169.95 L409.53,172.20 L410.21,174.33 L410.89,176.27 L411.56,178.01 L412.24,179.56 L412.92,180.97 L413.59,182.30 L414.27,183.54 L414.95,184.66 L415.62,185.66 L416.30,186.54 L416.98,187.31 L417.65,187.97 L418.33,188.53 L419.00,188.99 L419.68,189.36 L420.36,189.66 L421.03,189.92 L421.71,190.13 L422.39,190.30 L423.06,190.42 L423.74,190.49 L424.42,190.53 L425.09,190.52 L425.77,190.48 L426.45,190.40 L427.12,190.29 L427.80,190.15 L428.48,189.99 L429.15,189.81 L429.83,189.62 L430.50,189.41 L431.18,189.20 L431.86,188.99 L432.53,188.77 L433.21,188.56 L433.89,188.36 L434.56,188.16 L435.24,187.98 L435.92,187.81 L436.59,187.65 L437.27,187.51 L437.95,187.38 L438.62,187.26 L439.30,187.17 L439.98,187.08 L440.65,187.02 L441.33,186.96 L442.01,186.92 L442.68,186.89 L443.36,186.87 L444.03,186.86 L444.71,186.86 L445.39,186.87 L446.06,186.89 L446.74,186.92 L447.42,186.95 L448.09,186.98 L448.77,187.02 L449.45,187.07 L450.12,187.12 L450.80,187.17 L451.48,187.22 L452.15,187.28 L452.83,187.34 L453.51,187.40 L454.18,187.46 L454.86,187.52 L455.54,187.58 L456.21,187.65 L456.89,187.71 L457.56,187.77 L458.24,187.83 L458.92,187.90 L459.59,187.96 L460.27,188.02 L460.95,188.07 L461.62,188.13 L462.30,188.19 L462.98,188.24 L463.65,188.29 L464.33,188.34 L465.01,188.38 L465.68,188.43 L466.36,188.47 L467.04,188.50 L467.71,188.54 L468.39,188.57 L469.07,188.60 L469.74,188.62 L470.42,188.65 L471.10,188.66 L471.77,188.68 L472.45,188.69 L473.12,188.69 L473.80,188.70 L474.48,188.70 L475.15,188.69 L475.83,188.69 L476.51,188.67 L477.18,188.66 L477.86,188.64 L478.54,188.62 L479.21,188.59 L479.89,188.56 L480.57,188.53 L481.24,188.50 L481.92,188.46 L482.60,188.42 L483.27,188.38 L483.95,188.33 L484.62,188.28 L485.30,188.23 L485.98,188.18 L486.65,188.12 L487.33,188.07 L488.01,188.01 L488.68,187.95 L489.36,187.89 L490.04,187.83 L490.71,187.77 L491.39,187.71 L492.07,187.64 L492.74,187.58 L493.42,187.52 L494.10,187.46 L494.77,187.40 L495.45,187.34 L496.13,187.28 L496.80,187.22 L497.48,187.17 L498.15,187.11 L498.83,187.06 L499.51,187.01 L500.18,186.96 L500.86,186.91 L501.54,186.87 L502.21,186.83 L502.89,186.79 L503.57,186.76 L504.24,186.73 L504.92,186.70 L505.60,186.67 L506.27,186.65 L506.95,186.63 L507.63,186.62 L508.30,186.61 L508.98,186.60 L509.66,186.60 L510.33,186.60 L511.01,186.60 L511.69,186.61 L512.36,186.62 L513.04,186.63 L513.71,186.65 L514.39,186.67 L515.07,186.69 L515.74,186.72 L516.42,186.75 L517.10,186.79 L517.77,186.82 L518.45,186.86 L519.13,186.91 L519.80,186.95 L520.48,187.00 L521.16,187.05 L521.83,187.10 L522.51,187.15 L523.19,187.21 L523.86,187.27 L524.54,187.33 L525.22,187.39 L525.89,187.45 L526.57,187.51 L527.24,187.57 L527.92,187.63 L528.60,187.69 L529.27,187.75 L529.95,187.81 L530.63,187.87 L531.30,187.93 L531.98,187.99" fill="none" stroke="#8410dc" stroke-width="1.0" opacity="0.78"/>
<path d="M315.50,179.13 L316.18,179.18 L316.85,179.23 L317.53,179.28 L318.21,179.33 L318.88,179.39 L319.56,179.44 L320.24,179.49 L320.91,179.55 L321.59,179.60 L322.26,179.65 L322.94,179.70 L323.62,179.74 L324.29,179.79 L324.97,179.83 L325.65,179.87 L326.32,179.90 L327.00,179.93 L327.68,179.96 L328.35,179.98 L329.03,180.00 L329.71,180.01 L330.38,180.02 L331.06,180.03 L331.74,180.03 L332.41,180.02 L333.09,180.01 L333.77,180.00 L334.44,179.98 L335.12,179.96 L335.80,179.93 L336.47,179.89 L337.15,179.85 L337.82,179.79 L338.50,179.71 L339.18,179.60 L339.85,179.48 L340.53,179.34 L341.21,179.17 L341.88,179.00 L342.56,178.80 L343.24,178.60 L343.91,178.36 L344.59,178.08 L345.27,177.78 L345.94,177.46 L346.62,177.12 L347.30,176.76 L347.97,176.40 L348.65,176.01 L349.32,175.58 L350.00,175.12 L350.68,174.59 L351.35,174.05 L352.03,173.51 L352.71,172.92 L353.38,172.24 L354.06,171.44 L354.74,170.47 L355.41,169.41 L356.09,168.25 L356.77,167.01 L357.44,165.66 L358.12,164.21 L358.80,162.64 L359.47,160.94 L360.15,159.11 L360.83,157.19 L361.50,155.18 L362.18,153.13 L362.86,151.05 L363.53,148.97 L364.21,146.92 L364.88,144.88 L365.56,142.81 L366.24,140.68 L366.91,138.46 L367.59,136.11 L368.27,133.61 L368.94,130.77 L369.62,127.57 L370.30,124.20 L370.97,120.89 L371.65,117.82 L372.33,115.15 L373.00,112.76 L373.68,110.45 L374.36,108.04 L375.03,105.56 L375.71,103.24 L376.38,101.31 L377.06,99.75 L377.74,98.50 L378.41,97.50 L379.09,96.72 L379.77,96.27 L380.44,96.26 L381.12,96.63 L381.80,97.26 L382.47,98.10 L383.15,99.14 L383.83,100.44 L384.50,101.91 L385.18,103.52 L385.86,105.32 L386.53,107.23 L387.21,109.14 L387.89,110.98 L388.56,112.80 L389.24,114.62 L389.91,116.46 L390.59,118.34 L391.27,120.27 L391.94,122.19 L392.62,124.12 L393.30,126.08 L393.97,128.07 L394.65,130.14 L395.33,132.29 L396.00,134.57 L396.68,137.06 L397.36,139.71 L398.03,142.42 L398.71,145.11 L399.39,147.69 L400.06,150.11 L400.74,152.45 L401.42,154.74 L402.09,156.99 L402.77,159.20 L403.44,161.38 L404.12,163.55 L404.80,165.69 L405.47,167.77 L406.15,169.76 L406.83,171.63 L407.50,173.33 L408.18,174.83 L408.86,176.13 L409.53,177.26 L410.21,178.30 L410.89,179.26 L411.56,180.14 L412.24,180.91 L412.92,181.59 L413.59,182.18 L414.27,182.68 L414.95,183.10 L415.62,183.44 L416.30,183.70 L416.98,183.89 L417.65,184.03 L418.33,184.13 L419.00,184.19 L419.68,184.21 L420.36,184.18 L421.03,184.11 L421.71,184.00 L422.39,183.86 L423.06,183.68 L423.74,183.48 L424.42,183.26 L425.09,183.03 L425.77,182.79 L426.45,182.55 L427.12,182.32 L427.80,182.10 L428.48,181.89 L429.15,181.70 L429.83,181.53 L430.50,181.38 L431.18,181.26 L431.86,181.16 L432.53,181.08 L433.21,181.01 L433.89,180.97 L434.56,180.95 L435.24,180.93 L435.92,180.93 L436.59,180.94 L437.27,180.96 L437.95,180.98 L438.62,181.01 L439.30,181.04 L439.98,181.07 L440.65,181.09 L441.33,181.12 L442.01,181.14 L442.68,181.16 L443.36,181.18 L444.03,181.19 L444.71,181.19 L445.39,181.19 L446.06,181.18 L446.74,181.17 L447.42,181.15 L448.09,181.13 L448.77,181.10 L449.45,181.07 L450.12,181.03 L450.80,180.98 L451.48,180.94 L452.15,180.88 L452.83,180.82 L453.51,180.76 L454.18,180.70 L454.86,180.63 L455.54,180.56 L456.21,180.48 L456.89,180.41 L457.56,180.33 L458.24,180.25 L458.92,180.18 L459.59,180.10 L460.27,180.02 L460.95,179.94 L461.62,179.87 L462.30,179.79 L462.98,179.72 L463.65,179.65 L464.33,179.58 L465.01,179.51 L465.68,179.45 L466.36,179.40 L467.04,179.34 L467.71,179.29 L468.39,179.25 L469.07,179.21 L469.74,179.18 L470.42,179.15 L471.10,179.13 L471.77,179.11 L472.45,179.10 L473.12,179.09 L473.80,179.09 L474.48,179.10 L475.15,179.11 L475.83,179.13 L476.51,179.15 L477.18,179.18 L477.86,179.22 L478.54,179.26 L479.21,179.30 L479.89,179.35 L480.57,179.41 L481.24,179.46 L481.92,179.53 L482.60,179.59 L483.27,179.66 L483.95,179.73 L484.62,179.81 L485.30,179.88 L485.98,179.96 L486.65,180.04 L487.33,180.12 L488.01,180.20 L488.68,180.28 L489.36,180.36 L490.04,180.44 L490.71,180.51 L491.39,180.59 L492.07,180.66 L492.74,180.73 L493.42,180.80 L494.10,180.86 L494.77,180.92 L495.45,180.98 L496.13,181.03 L496.80,181.07 L497.48,181.11 L498.15,181.15 L498.83,181.18 L499.51,181.21 L500.18,181.23 L500.86,181.24 L501.54,181.25 L502.21,181.25 L502.89,181.25 L503.57,181.24 L504.24,181.22 L504.92,181.20 L505.60,181.17 L506.27,181.14 L506.95,181.10 L507.63,181.06 L508.30,181.01 L508.98,180.96 L509.66,180.91 L510.33,180.84 L511.01,180.78 L511.69,180.71 L512.36,180.64 L513.04,180.57 L513.71,180.49 L514.39,180.42 L515.07,180.34 L515.74,180.26 L516.42,180.18 L517.10,180.10 L517.77,180.02 L518.45,179.94 L519.13,179.86 L519.80,179.79 L520.48,179.71 L521.16,179.64 L521.83,179.57 L522.51,179.51 L523.19,179.44 L523.86,179.39 L524.54,179.33 L525.22,179.28 L525.89,179.24 L526.57,179.20 L527.24,179.17 L527.92,179.14 L528.60,179.12 L529.27,179.10 L529.95,179.09 L530.63,179.08 L531.30,179.08 L531.98,179.09" fill="none" stroke="#8410dc" stroke-width="1.0" opacity="0.78"/>
<path d="M315.50,180.18 L316.18,180.19 L316.85,180.21 L317.53,180.25 L318.21,180.30 L318.88,180.36 L319.56,180.43 L320.24,180.51 L320.91,180.60 L321.59,180.70 L322.26,180.81 L322.94,180.92 L323.62,181.04 L324.29,181.16 L324.97,181.28 L325.65,181.40 L326.32,181.52 L327.00,181.64 L327.68,181.75 L328.35,181.86 L329.03,181.95 L329.71,182.04 L330.38,182.12 L331.06,182.19 L331.74,182.25 L332.41,182.29 L333.09,182.32 L333.77,182.34 L334.44,182.34 L335.12,182.33 L335.80,182.31 L336.47,182.27 L337.15,182.21 L337.82,182.15 L338.50,182.07 L339.18,181.98 L339.85,181.88 L340.53,181.77 L341.21,181.65 L341.88,181.51 L342.56,181.35 L343.24,181.17 L343.91,180.97 L344.59,180.76 L345.27,180.54 L345.94,180.31 L346.62,180.07 L347.30,179.83 L347.97,179.56 L348.65,179.28 L349.32,178.98 L350.00,178.67 L350.68,178.35 L351.35,178.04 L352.03,177.72 L352.71,177.38 L353.38,177.02 L354.06,176.61 L354.74,176.15 L355.41,175.68 L356.09,175.19 L356.77,174.66 L357.44,174.04 L358.12,173.28 L358.80,172.36 L359.47,171.33 L360.15,170.21 L360.83,168.99 L361.50,167.66 L362.18,166.23 L362.86,164.67 L363.53,162.98 L364.21,161.17 L364.88,159.25 L365.56,157.25 L366.24,155.21 L366.91,153.13 L367.59,151.06 L368.27,149.02 L368.94,146.98 L369.62,144.91 L370.30,142.79 L370.97,140.58 L371.65,138.24 L372.33,135.75 L373.00,132.93 L373.68,129.74 L374.36,126.39 L375.03,123.09 L375.71,120.04 L376.38,117.39 L377.06,115.01 L377.74,112.71 L378.41,110.31 L379.09,107.85 L379.77,105.54 L380.44,103.61 L381.12,102.06 L381.80,100.82 L382.47,99.82 L383.15,99.05 L383.83,98.60 L384.50,98.60 L385.18,98.96 L385.86,99.59 L386.53,100.42 L387.21,101.46 L387.89,102.75 L388.56,104.22 L389.24,105.82 L389.91,107.60 L390.59,109.50 L391.27,111.40 L391.94,113.23 L392.62,115.04 L393.30,116.85 L393.97,118.68 L394.65,120.55 L395.33,122.47 L396.00,124.40 L396.68,126.32 L397.36,128.26 L398.03,130.26 L398.71,132.32 L399.39,134.47 L400.06,136.75 L400.74,139.25 L401.42,141.91 L402.09,144.63 L402.77,147.34 L403.44,149.96 L404.12,152.41 L404.80,154.80 L405.47,157.16 L406.15,159.48 L406.83,161.79 L407.50,164.08 L408.18,166.38 L408.86,168.66 L409.53,170.89 L410.21,173.05 L410.89,175.10 L411.56,176.99 L412.24,178.68 L412.92,180.18 L413.59,181.50 L414.27,182.72 L414.95,183.85 L415.62,184.87 L416.30,185.77 L416.98,186.54 L417.65,187.18 L418.33,187.71 L419.00,188.11 L419.68,188.40 L420.36,188.58 L421.03,188.66 L421.71,188.66 L422.39,188.60 L423.06,188.48 L423.74,188.30 L424.42,188.08 L425.09,187.80 L425.77,187.50 L426.45,187.16 L427.12,186.81 L427.80,186.44 L428.48,186.07 L429.15,185.70 L429.83,185.34 L430.50,185.00 L431.18,184.67 L431.86,184.37 L432.53,184.09 L433.21,183.83 L433.89,183.60 L434.56,183.40 L435.24,183.21 L435.92,183.05 L436.59,182.91 L437.27,182.79 L437.95,182.69 L438.62,182.60 L439.30,182.53 L439.98,182.46 L440.65,182.41 L441.33,182.36 L442.01,182.32 L442.68,182.29 L443.36,182.27 L444.03,182.25 L444.71,182.23 L445.39,182.22 L446.06,182.21 L446.74,182.21 L447.42,182.21 L448.09,182.21 L448.77,182.21 L449.45,182.22 L450.12,182.23 L450.80,182.25 L451.48,182.26 L452.15,182.28 L452.83,182.30 L453.51,182.32 L454.18,182.35 L454.86,182.38 L455.54,182.40 L456.21,182.44 L456.89,182.47 L457.56,182.51 L458.24,182.54 L458.92,182.58 L459.59,182.62 L460.27,182.67 L460.95,182.71 L461.62,182.76 L462.30,182.80 L462.98,182.85 L463.65,182.90 L464.33,182.95 L465.01,183.00 L465.68,183.06 L466.36,183.11 L467.04,183.16 L467.71,183.22 L468.39,183.27 L469.07,183.33 L469.74,183.38 L470.42,183.44 L471.10,183.49 L471.77,183.55 L472.45,183.60 L473.12,183.66 L473.80,183.71 L474.48,183.76 L475.15,183.82 L475.83,183.87 L476.51,183.92 L477.18,183.97 L477.86,184.02 L478.54,184.07 L479.21,184.11 L479.89,184.16 L480.57,184.20 L481.24,184.24 L481.92,184.28 L482.60,184.32 L483.27,184.36 L483.95,184.39 L484.62,184.42 L485.30,184.45 L485.98,184.48 L486.65,184.51 L487.33,184.53 L488.01,184.55 L488.68,184.57 L489.36,184.59 L490.04,184.61 L490.71,184.62 L491.39,184.63 L492.07,184.63 L492.74,184.64 L493.42,184.64 L494.10,184.64 L494.77,184.64 L495.45,184.63 L496.13,184.63 L496.80,184.62 L497.48,184.60 L498.15,184.59 L498.83,184.57 L499.51,184.55 L500.18,184.53 L500.86,184.51 L501.54,184.48 L502.21,184.45 L502.89,184.42 L503.57,184.39 L504.24,184.35 L504.92,184.32 L505.60,184.28 L506.27,184.24 L506.95,184.20 L507.63,184.16 L508.30,184.11 L508.98,184.06 L509.66,184.02 L510.33,183.97 L511.01,183.92 L511.69,183.87 L512.36,183.82 L513.04,183.76 L513.71,183.71 L514.39,183.66 L515.07,183.60 L515.74,183.55 L516.42,183.49 L517.10,183.44 L517.77,183.38 L518.45,183.33 L519.13,183.28 L519.80,183.22 L520.48,183.17 L521.16,183.11 L521.83,183.06 L522.51,183.01 L523.19,182.96 L523.86,182.91 L524.54,182.86 L525.22,182.81 L525.89,182.77 L526.57,182.72 L527.24,182.68 L527.92,182.63 L528.60,182.59 L529.27,182.55 L529.95,182.52 L530.63,182.48 L531.30,182.45 L531.98,182.42" fill="none" stroke="#8410dc" stroke-width="1.0" opacity="0.78"/>
<path d="M315.50,178.48 L316.18,178.55 L316.85,178.61 L317.53,178.67 L318.21,178.71 L318.88,178.74 L319.56,178.76 L320.24,178.77 L320.91,178.76 L321.59,178.75 L322.26,178.72 L322.94,178.69 L323.62,178.64 L324.29,178.58 L324.97,178.51 L325.65,178.43 L326.32,178.35 L327.00,178.25 L327.68,178.15 L328.35,178.05 L329.03,177.93 L329.71,177.82 L330.38,177.70 L331.06,177.58 L331.74,177.46 L332.41,177.34 L333.09,177.22 L333.77,177.11 L334.44,176.99 L335.12,176.89 L335.80,176.79 L336.47,176.69 L337.15,176.60 L337.82,176.53 L338.50,176.46 L339.18,176.39 L339.85,176.32 L340.53,176.24 L341.21,176.16 L341.88,176.07 L342.56,175.99 L343.24,175.90 L343.91,175.81 L344.59,175.72 L345.27,175.62 L345.94,175.49 L346.62,175.35 L347.30,175.18 L347.97,175.00 L348.65,174.81 L349.32,174.60 L350.00,174.37 L350.68,174.10 L351.35,173.79 L352.03,173.42 L352.71,172.99 L353.38,172.56 L354.06,172.09 L354.74,171.54 L355.41,170.88 L356.09,170.07 L356.77,169.14 L357.44,168.12 L358.12,167.02 L358.80,165.82 L359.47,164.53 L360.15,163.13 L360.83,161.63 L361.50,160.00 L362.18,158.27 L362.86,156.47 L363.53,154.61 L364.21,152.72 L364.88,150.83 L365.56,148.95 L366.24,147.09 L366.91,145.22 L367.59,143.31 L368.27,141.33 L368.94,139.25 L369.62,137.05 L370.30,134.63 L370.97,131.84 L371.65,128.83 L372.33,125.79 L373.00,122.90 L373.68,120.34 L374.36,118.10 L375.03,116.00 L375.71,113.87 L376.38,111.63 L377.06,109.45 L377.74,107.54 L378.41,106.01 L379.09,104.77 L379.77,103.78 L380.44,102.99 L381.12,102.45 L381.80,102.28 L382.47,102.49 L383.15,102.97 L383.83,103.67 L384.50,104.52 L385.18,105.61 L385.86,106.89 L386.53,108.30 L387.21,109.85 L387.89,111.55 L388.56,113.29 L389.24,114.98 L389.91,116.63 L390.59,118.28 L391.27,119.93 L391.94,121.62 L392.62,123.35 L393.30,125.10 L393.97,126.85 L394.65,128.61 L395.33,130.40 L396.00,132.25 L396.68,134.18 L397.36,136.20 L398.03,138.39 L398.71,140.76 L399.39,143.22 L400.06,145.71 L400.74,148.13 L401.42,150.41 L402.09,152.60 L402.77,154.75 L403.44,156.88 L404.12,158.98 L404.80,161.06 L405.47,163.15 L406.15,165.23 L406.83,167.29 L407.50,169.29 L408.18,171.22 L408.86,173.03 L409.53,174.67 L410.21,176.15 L410.89,177.46 L411.56,178.67 L412.24,179.81 L412.92,180.87 L413.59,181.85 L414.27,182.72 L414.95,183.50 L415.62,184.18 L416.30,184.77 L416.98,185.27 L417.65,185.67 L418.33,185.98 L419.00,186.22 L419.68,186.41 L420.36,186.53 L421.03,186.60 L421.71,186.60 L422.39,186.54 L423.06,186.43 L423.74,186.27 L424.42,186.07 L425.09,185.82 L425.77,185.54 L426.45,185.24 L427.12,184.92 L427.80,184.60 L428.48,184.27 L429.15,183.94 L429.83,183.63 L430.50,183.33 L431.18,183.04 L431.86,182.78 L432.53,182.54 L433.21,182.33 L433.89,182.14 L434.56,181.97 L435.24,181.83 L435.92,181.71 L436.59,181.61 L437.27,181.53 L437.95,181.46 L438.62,181.42 L439.30,181.38 L439.98,181.36 L440.65,181.35 L441.33,181.36 L442.01,181.37 L442.68,181.39 L443.36,181.41 L444.03,181.44 L444.71,181.48 L445.39,181.52 L446.06,181.57 L446.74,181.62 L447.42,181.68 L448.09,181.74 L448.77,181.80 L449.45,181.87 L450.12,181.94 L450.80,182.01 L451.48,182.08 L452.15,182.15 L452.83,182.23 L453.51,182.30 L454.18,182.38 L454.86,182.46 L455.54,182.53 L456.21,182.61 L456.89,182.69 L457.56,182.76 L458.24,182.84 L458.92,182.91 L459.59,182.98 L460.27,183.05 L460.95,183.12 L461.62,183.18 L462.30,183.25 L462.98,183.31 L463.65,183.36 L464.33,183.41 L465.01,183.46 L465.68,183.51 L466.36,183.55 L467.04,183.59 L467.71,183.62 L468.39,183.65 L469.07,183.67 L469.74,183.69 L470.42,183.71 L471.10,183.72 L471.77,183.72 L472.45,183.72 L473.12,183.72 L473.80,183.71 L474.48,183.70 L475.15,183.68 L475.83,183.66 L476.51,183.63 L477.18,183.60 L477.86,183.56 L478.54,183.52 L479.21,183.48 L479.89,183.43 L480.57,183.38 L481.24,183.33 L481.92,183.27 L482.60,183.21 L483.27,183.14 L483.95,183.08 L484.62,183.01 L485.30,182.94 L485.98,182.87 L486.65,182.80 L487.33,182.72 L488.01,182.65 L488.68,182.57 L489.36,182.50 L490.04,182.42 L490.71,182.34 L491.39,182.27 L492.07,182.19 L492.74,182.12 L493.42,182.05 L494.10,181.98 L494.77,181.91 L495.45,181.85 L496.13,181.78 L496.80,181.72 L497.48,181.66 L498.15,181.61 L498.83,181.56 L499.51,181.51 L500.18,181.47 L500.86,181.43 L501.54,181.39 L502.21,181.36 L502.89,181.33 L503.57,181.31 L504.24,181.29 L504.92,181.28 L505.60,181.27 L506.27,181.27 L506.95,181.27 L507.63,181.27 L508.30,181.28 L508.98,181.30 L509.66,181.32 L510.33,181.34 L511.01,181.37 L511.69,181.40 L512.36,181.44 L513.04,181.48 L513.71,181.52 L514.39,181.57 L515.07,181.62 L515.74,181.68 L516.42,181.74 L517.10,181.80 L517.77,181.86 L518.45,181.93 L519.13,182.00 L519.80,182.07 L520.48,182.14 L521.16,182.21 L521.83,182.29 L522.51,182.36 L523.19,182.44 L523.86,182.51 L524.54,182.59 L525.22,182.66 L525.89,182.74 L526.57,182.81 L527.24,182.88 L527.92,182.95 L528.60,183.02 L529.27,183.09 L529.95,183.15 L530.63,183.22 L531.30,183.28 L531.98,183.33" fill="none" stroke="#8410dc" stroke-width="1.0" opacity="0.78"/>
<rect x="186.5" y="59.4" width="75.3" height="24.5" fill="#fff" stroke="#a8a8a8" stroke-width="1"/>
<text transform="translate(190.80,69.00) scale(1,1.07)" class="lg">Head velocity</text>
<text transform="translate(190.80,79.60) scale(1,1.07)" class="lg">Eye velocity</text>
<path d="M242.5,66.2H257.2" stroke="#8410dc" stroke-width="2"/>
<path d="M242.5,77H257.2" stroke="#16c608" stroke-width="2"/>
<text transform="translate(264.60,35.50) scale(1,1.07)" text-anchor="end" class="lg">Gain: 0.98</text>
<rect x="462.4" y="59.4" width="75.3" height="24.5" fill="#fff" stroke="#a8a8a8" stroke-width="1"/>
<text transform="translate(466.70,69.00) scale(1,1.07)" class="lg">Head velocity</text>
<text transform="translate(466.70,79.60) scale(1,1.07)" class="lg">Eye velocity</text>
<path d="M518.4,66.2H533.0999999999999" stroke="#8410dc" stroke-width="2"/>
<path d="M518.4,77H533.0999999999999" stroke="#16c608" stroke-width="2"/>
<text transform="translate(537.60,35.50) scale(1,1.07)" text-anchor="end" class="lg">Gain: 1.02</text>
<text x="7.6" y="28.5" class="big">A</text>
<text x="280.6" y="28.5" class="big">B</text>
<text transform="translate(147.00,23.70) scale(1,1.07)" text-anchor="middle" class="ti">One impulse plot: Normal VOR</text>
<text transform="translate(423.00,23.90) scale(1,1.07)" text-anchor="middle" class="ti">All impulses plot: Normal VOR</text>
<text transform="translate(150.20,242.90) scale(1,1.1)" text-anchor="middle" class="xl">Time in samples (~ 250Hz)</text>
<text transform="translate(425.30,242.90) scale(1,1.1)" text-anchor="middle" class="xl">Time in samples (~ 250Hz)</text>
<text transform="translate(22.00,115.50) rotate(-90) scale(1,1.0)" text-anchor="middle" class="xl">Velocity in °/s</text>
<text transform="translate(293.90,114.60) rotate(-90) scale(1,1.0)" text-anchor="middle" class="xl">Velocity in °/s</text>
</svg>
</body></html>
